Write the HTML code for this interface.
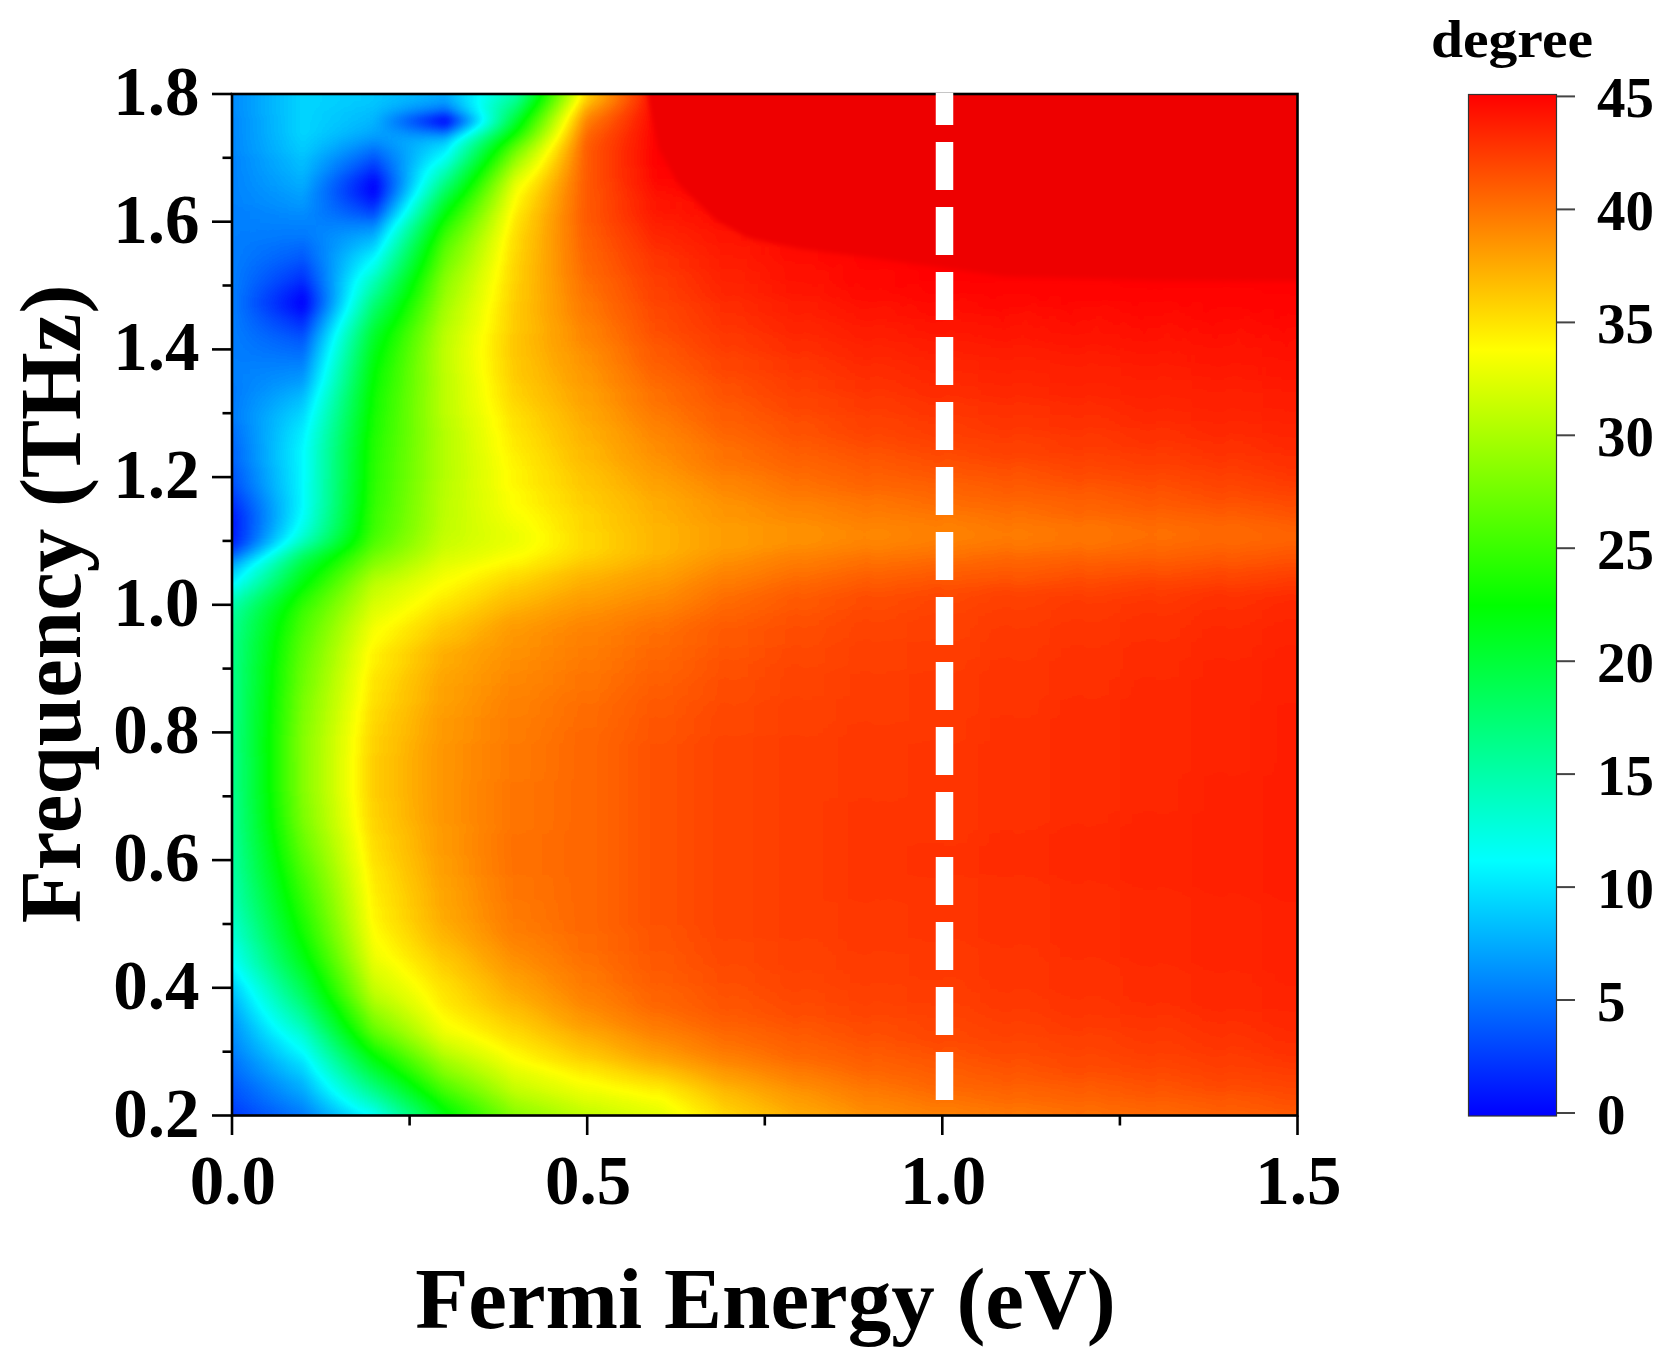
<!DOCTYPE html>
<html><head><meta charset="utf-8"><title>Fermi Energy vs Frequency</title>
<style>html,body{margin:0;padding:0;background:#fff}svg{display:block}text{font-family:"Liberation Serif","Times New Roman",serif;font-weight:bold;fill:#000}</style></head>
<body>
<svg width="1664" height="1360" viewBox="0 0 1664 1360">
<defs>
<linearGradient id="c0" gradientUnits="userSpaceOnUse" x1="0" y1="94.0" x2="0" y2="1115.5"><stop offset="0" stop-color="#232323"/><stop offset="0.00625" stop-color="#232323"/><stop offset="0.0125" stop-color="#232323"/><stop offset="0.01875" stop-color="#232323"/><stop offset="0.025" stop-color="#222222"/><stop offset="0.03125" stop-color="#222222"/><stop offset="0.0375" stop-color="#222222"/><stop offset="0.04375" stop-color="#222222"/><stop offset="0.05" stop-color="#222222"/><stop offset="0.05625" stop-color="#222222"/><stop offset="0.0625" stop-color="#212121"/><stop offset="0.06875" stop-color="#212121"/><stop offset="0.075" stop-color="#212121"/><stop offset="0.08125" stop-color="#212121"/><stop offset="0.0875" stop-color="#212121"/><stop offset="0.09375" stop-color="#212121"/><stop offset="0.1" stop-color="#212121"/><stop offset="0.1062" stop-color="#212121"/><stop offset="0.1125" stop-color="#202020"/><stop offset="0.1187" stop-color="#202020"/><stop offset="0.125" stop-color="#202020"/><stop offset="0.1313" stop-color="#202020"/><stop offset="0.1375" stop-color="#202020"/><stop offset="0.1437" stop-color="#202020"/><stop offset="0.15" stop-color="#202020"/><stop offset="0.1562" stop-color="#202020"/><stop offset="0.1625" stop-color="#202020"/><stop offset="0.1688" stop-color="#202020"/><stop offset="0.175" stop-color="#202020"/><stop offset="0.1812" stop-color="#202020"/><stop offset="0.1875" stop-color="#202020"/><stop offset="0.1938" stop-color="#202020"/><stop offset="0.2" stop-color="#202020"/><stop offset="0.2062" stop-color="#202020"/><stop offset="0.2125" stop-color="#202020"/><stop offset="0.2188" stop-color="#202020"/><stop offset="0.225" stop-color="#202020"/><stop offset="0.2313" stop-color="#202020"/><stop offset="0.2375" stop-color="#202020"/><stop offset="0.2437" stop-color="#202020"/><stop offset="0.25" stop-color="#202020"/><stop offset="0.2562" stop-color="#202020"/><stop offset="0.2625" stop-color="#202020"/><stop offset="0.2687" stop-color="#202020"/><stop offset="0.275" stop-color="#202020"/><stop offset="0.2812" stop-color="#202020"/><stop offset="0.2875" stop-color="#1f1f1f"/><stop offset="0.2938" stop-color="#1f1f1f"/><stop offset="0.3" stop-color="#1f1f1f"/><stop offset="0.3063" stop-color="#1f1f1f"/><stop offset="0.3125" stop-color="#1f1f1f"/><stop offset="0.3187" stop-color="#1f1f1f"/><stop offset="0.325" stop-color="#1d1d1d"/><stop offset="0.3312" stop-color="#1c1c1c"/><stop offset="0.3375" stop-color="#1b1b1b"/><stop offset="0.3438" stop-color="#1a1a1a"/><stop offset="0.35" stop-color="#191919"/><stop offset="0.3563" stop-color="#191919"/><stop offset="0.3625" stop-color="#181818"/><stop offset="0.3688" stop-color="#161616"/><stop offset="0.375" stop-color="#151515"/><stop offset="0.3812" stop-color="#141414"/><stop offset="0.3875" stop-color="#121212"/><stop offset="0.3937" stop-color="#0f0f0f"/><stop offset="0.4" stop-color="#0c0c0c"/><stop offset="0.4062" stop-color="#090909"/><stop offset="0.4125" stop-color="#070707"/><stop offset="0.4188" stop-color="#060606"/><stop offset="0.425" stop-color="#060606"/><stop offset="0.4313" stop-color="#060606"/><stop offset="0.4375" stop-color="#070707"/><stop offset="0.4437" stop-color="#0d0d0d"/><stop offset="0.45" stop-color="#161616"/><stop offset="0.4562" stop-color="#222222"/><stop offset="0.4625" stop-color="#2c2c2c"/><stop offset="0.4688" stop-color="#333333"/><stop offset="0.475" stop-color="#393939"/><stop offset="0.4813" stop-color="#404040"/><stop offset="0.4875" stop-color="#474747"/><stop offset="0.4938" stop-color="#4e4e4e"/><stop offset="0.5" stop-color="#535353"/><stop offset="0.5062" stop-color="#575757"/><stop offset="0.5125" stop-color="#595959"/><stop offset="0.5188" stop-color="#5b5b5b"/><stop offset="0.525" stop-color="#5b5b5b"/><stop offset="0.5312" stop-color="#5c5c5c"/><stop offset="0.5375" stop-color="#5d5d5d"/><stop offset="0.5437" stop-color="#5d5d5d"/><stop offset="0.55" stop-color="#5d5d5d"/><stop offset="0.5563" stop-color="#5d5d5d"/><stop offset="0.5625" stop-color="#5e5e5e"/><stop offset="0.5687" stop-color="#5d5d5d"/><stop offset="0.575" stop-color="#5d5d5d"/><stop offset="0.5813" stop-color="#5d5d5d"/><stop offset="0.5875" stop-color="#5d5d5d"/><stop offset="0.5938" stop-color="#5d5d5d"/><stop offset="0.6" stop-color="#5d5d5d"/><stop offset="0.6062" stop-color="#5d5d5d"/><stop offset="0.6125" stop-color="#5d5d5d"/><stop offset="0.6188" stop-color="#5d5d5d"/><stop offset="0.625" stop-color="#5d5d5d"/><stop offset="0.6312" stop-color="#5d5d5d"/><stop offset="0.6375" stop-color="#5d5d5d"/><stop offset="0.6438" stop-color="#5d5d5d"/><stop offset="0.65" stop-color="#5c5c5c"/><stop offset="0.6562" stop-color="#5c5c5c"/><stop offset="0.6625" stop-color="#5c5c5c"/><stop offset="0.6687" stop-color="#5c5c5c"/><stop offset="0.675" stop-color="#5c5c5c"/><stop offset="0.6813" stop-color="#5c5c5c"/><stop offset="0.6875" stop-color="#5b5b5b"/><stop offset="0.6937" stop-color="#5b5b5b"/><stop offset="0.7" stop-color="#5b5b5b"/><stop offset="0.7063" stop-color="#5a5a5a"/><stop offset="0.7125" stop-color="#5a5a5a"/><stop offset="0.7188" stop-color="#5a5a5a"/><stop offset="0.725" stop-color="#595959"/><stop offset="0.7312" stop-color="#595959"/><stop offset="0.7375" stop-color="#585858"/><stop offset="0.7438" stop-color="#585858"/><stop offset="0.75" stop-color="#575757"/><stop offset="0.7562" stop-color="#575757"/><stop offset="0.7625" stop-color="#565656"/><stop offset="0.7688" stop-color="#555555"/><stop offset="0.775" stop-color="#545454"/><stop offset="0.7812" stop-color="#535353"/><stop offset="0.7875" stop-color="#525252"/><stop offset="0.7937" stop-color="#515151"/><stop offset="0.8" stop-color="#4f4f4f"/><stop offset="0.8063" stop-color="#4e4e4e"/><stop offset="0.8125" stop-color="#4c4c4c"/><stop offset="0.8187" stop-color="#4a4a4a"/><stop offset="0.825" stop-color="#494949"/><stop offset="0.8313" stop-color="#464646"/><stop offset="0.8375" stop-color="#444444"/><stop offset="0.8438" stop-color="#424242"/><stop offset="0.85" stop-color="#404040"/><stop offset="0.8562" stop-color="#3d3d3d"/><stop offset="0.8625" stop-color="#393939"/><stop offset="0.8688" stop-color="#363636"/><stop offset="0.875" stop-color="#323232"/><stop offset="0.8812" stop-color="#303030"/><stop offset="0.8875" stop-color="#2d2d2d"/><stop offset="0.8938" stop-color="#2b2b2b"/><stop offset="0.9" stop-color="#292929"/><stop offset="0.9062" stop-color="#272727"/><stop offset="0.9125" stop-color="#252525"/><stop offset="0.9187" stop-color="#242424"/><stop offset="0.925" stop-color="#232323"/><stop offset="0.9313" stop-color="#212121"/><stop offset="0.9375" stop-color="#202020"/><stop offset="0.9437" stop-color="#1e1e1e"/><stop offset="0.95" stop-color="#1c1c1c"/><stop offset="0.9563" stop-color="#1b1b1b"/><stop offset="0.9625" stop-color="#191919"/><stop offset="0.9688" stop-color="#171717"/><stop offset="0.975" stop-color="#151515"/><stop offset="0.9812" stop-color="#141414"/><stop offset="0.9875" stop-color="#121212"/><stop offset="0.9938" stop-color="#101010"/><stop offset="1" stop-color="#0e0e0e"/></linearGradient>
<linearGradient id="c1" gradientUnits="userSpaceOnUse" x1="0" y1="94.0" x2="0" y2="1115.5"><stop offset="0" stop-color="#363636"/><stop offset="0.00625" stop-color="#363636"/><stop offset="0.0125" stop-color="#363636"/><stop offset="0.01875" stop-color="#363636"/><stop offset="0.025" stop-color="#363636"/><stop offset="0.03125" stop-color="#363636"/><stop offset="0.0375" stop-color="#363636"/><stop offset="0.04375" stop-color="#353535"/><stop offset="0.05" stop-color="#343434"/><stop offset="0.05625" stop-color="#333333"/><stop offset="0.0625" stop-color="#313131"/><stop offset="0.06875" stop-color="#303030"/><stop offset="0.075" stop-color="#2f2f2f"/><stop offset="0.08125" stop-color="#2d2d2d"/><stop offset="0.0875" stop-color="#2c2c2c"/><stop offset="0.09375" stop-color="#2a2a2a"/><stop offset="0.1" stop-color="#282828"/><stop offset="0.1062" stop-color="#272727"/><stop offset="0.1125" stop-color="#252525"/><stop offset="0.1187" stop-color="#232323"/><stop offset="0.125" stop-color="#222222"/><stop offset="0.1313" stop-color="#202020"/><stop offset="0.1375" stop-color="#1f1f1f"/><stop offset="0.1437" stop-color="#1d1d1d"/><stop offset="0.15" stop-color="#1a1a1a"/><stop offset="0.1562" stop-color="#181818"/><stop offset="0.1625" stop-color="#151515"/><stop offset="0.1688" stop-color="#121212"/><stop offset="0.175" stop-color="#0f0f0f"/><stop offset="0.1812" stop-color="#0c0c0c"/><stop offset="0.1875" stop-color="#080808"/><stop offset="0.1938" stop-color="#040404"/><stop offset="0.2" stop-color="#010101"/><stop offset="0.2062" stop-color="#000000"/><stop offset="0.2125" stop-color="#030303"/><stop offset="0.2188" stop-color="#080808"/><stop offset="0.225" stop-color="#0c0c0c"/><stop offset="0.2313" stop-color="#101010"/><stop offset="0.2375" stop-color="#141414"/><stop offset="0.2437" stop-color="#171717"/><stop offset="0.25" stop-color="#1a1a1a"/><stop offset="0.2562" stop-color="#1d1d1d"/><stop offset="0.2625" stop-color="#202020"/><stop offset="0.2687" stop-color="#222222"/><stop offset="0.275" stop-color="#252525"/><stop offset="0.2812" stop-color="#272727"/><stop offset="0.2875" stop-color="#2b2b2b"/><stop offset="0.2938" stop-color="#2e2e2e"/><stop offset="0.3" stop-color="#313131"/><stop offset="0.3063" stop-color="#333333"/><stop offset="0.3125" stop-color="#363636"/><stop offset="0.3187" stop-color="#383838"/><stop offset="0.325" stop-color="#3a3a3a"/><stop offset="0.3312" stop-color="#3c3c3c"/><stop offset="0.3375" stop-color="#3d3d3d"/><stop offset="0.3438" stop-color="#3e3e3e"/><stop offset="0.35" stop-color="#3f3f3f"/><stop offset="0.3563" stop-color="#3f3f3f"/><stop offset="0.3625" stop-color="#3f3f3f"/><stop offset="0.3688" stop-color="#3f3f3f"/><stop offset="0.375" stop-color="#3f3f3f"/><stop offset="0.3812" stop-color="#3f3f3f"/><stop offset="0.3875" stop-color="#3f3f3f"/><stop offset="0.3937" stop-color="#3f3f3f"/><stop offset="0.4" stop-color="#3f3f3f"/><stop offset="0.4062" stop-color="#404040"/><stop offset="0.4125" stop-color="#414141"/><stop offset="0.4188" stop-color="#434343"/><stop offset="0.425" stop-color="#464646"/><stop offset="0.4313" stop-color="#4a4a4a"/><stop offset="0.4375" stop-color="#505050"/><stop offset="0.4437" stop-color="#595959"/><stop offset="0.45" stop-color="#646464"/><stop offset="0.4562" stop-color="#6c6c6c"/><stop offset="0.4625" stop-color="#727272"/><stop offset="0.4688" stop-color="#777777"/><stop offset="0.475" stop-color="#7b7b7b"/><stop offset="0.4813" stop-color="#7f7f7f"/><stop offset="0.4875" stop-color="#848484"/><stop offset="0.4938" stop-color="#888888"/><stop offset="0.5" stop-color="#8b8b8b"/><stop offset="0.5062" stop-color="#8e8e8e"/><stop offset="0.5125" stop-color="#909090"/><stop offset="0.5188" stop-color="#929292"/><stop offset="0.525" stop-color="#939393"/><stop offset="0.5312" stop-color="#959595"/><stop offset="0.5375" stop-color="#969696"/><stop offset="0.5437" stop-color="#979797"/><stop offset="0.55" stop-color="#989898"/><stop offset="0.5563" stop-color="#999999"/><stop offset="0.5625" stop-color="#9a9a9a"/><stop offset="0.5687" stop-color="#9b9b9b"/><stop offset="0.575" stop-color="#9b9b9b"/><stop offset="0.5813" stop-color="#9c9c9c"/><stop offset="0.5875" stop-color="#9d9d9d"/><stop offset="0.5938" stop-color="#9e9e9e"/><stop offset="0.6" stop-color="#9e9e9e"/><stop offset="0.6062" stop-color="#9f9f9f"/><stop offset="0.6125" stop-color="#9f9f9f"/><stop offset="0.6188" stop-color="#a0a0a0"/><stop offset="0.625" stop-color="#a0a0a0"/><stop offset="0.6312" stop-color="#a1a1a1"/><stop offset="0.6375" stop-color="#a1a1a1"/><stop offset="0.6438" stop-color="#a1a1a1"/><stop offset="0.65" stop-color="#a1a1a1"/><stop offset="0.6562" stop-color="#a1a1a1"/><stop offset="0.6625" stop-color="#a1a1a1"/><stop offset="0.6687" stop-color="#a1a1a1"/><stop offset="0.675" stop-color="#a1a1a1"/><stop offset="0.6813" stop-color="#a1a1a1"/><stop offset="0.6875" stop-color="#a0a0a0"/><stop offset="0.6937" stop-color="#a0a0a0"/><stop offset="0.7" stop-color="#9f9f9f"/><stop offset="0.7063" stop-color="#9f9f9f"/><stop offset="0.7125" stop-color="#9e9e9e"/><stop offset="0.7188" stop-color="#9d9d9d"/><stop offset="0.725" stop-color="#9b9b9b"/><stop offset="0.7312" stop-color="#9a9a9a"/><stop offset="0.7375" stop-color="#999999"/><stop offset="0.7438" stop-color="#979797"/><stop offset="0.75" stop-color="#969696"/><stop offset="0.7562" stop-color="#949494"/><stop offset="0.7625" stop-color="#939393"/><stop offset="0.7688" stop-color="#919191"/><stop offset="0.775" stop-color="#909090"/><stop offset="0.7812" stop-color="#8e8e8e"/><stop offset="0.7875" stop-color="#8d8d8d"/><stop offset="0.7937" stop-color="#8b8b8b"/><stop offset="0.8" stop-color="#8a8a8a"/><stop offset="0.8063" stop-color="#888888"/><stop offset="0.8125" stop-color="#868686"/><stop offset="0.8187" stop-color="#858585"/><stop offset="0.825" stop-color="#838383"/><stop offset="0.8313" stop-color="#818181"/><stop offset="0.8375" stop-color="#7e7e7e"/><stop offset="0.8438" stop-color="#7c7c7c"/><stop offset="0.85" stop-color="#797979"/><stop offset="0.8562" stop-color="#767676"/><stop offset="0.8625" stop-color="#737373"/><stop offset="0.8688" stop-color="#6f6f6f"/><stop offset="0.875" stop-color="#6c6c6c"/><stop offset="0.8812" stop-color="#686868"/><stop offset="0.8875" stop-color="#646464"/><stop offset="0.8938" stop-color="#606060"/><stop offset="0.9" stop-color="#5b5b5b"/><stop offset="0.9062" stop-color="#575757"/><stop offset="0.9125" stop-color="#525252"/><stop offset="0.9187" stop-color="#4d4d4d"/><stop offset="0.925" stop-color="#484848"/><stop offset="0.9313" stop-color="#444444"/><stop offset="0.9375" stop-color="#404040"/><stop offset="0.9437" stop-color="#3c3c3c"/><stop offset="0.95" stop-color="#383838"/><stop offset="0.9563" stop-color="#353535"/><stop offset="0.9625" stop-color="#313131"/><stop offset="0.9688" stop-color="#2e2e2e"/><stop offset="0.975" stop-color="#2b2b2b"/><stop offset="0.9812" stop-color="#282828"/><stop offset="0.9875" stop-color="#252525"/><stop offset="0.9938" stop-color="#222222"/><stop offset="1" stop-color="#1f1f1f"/></linearGradient>
<linearGradient id="c2" gradientUnits="userSpaceOnUse" x1="0" y1="94.0" x2="0" y2="1115.5"><stop offset="0" stop-color="#323232"/><stop offset="0.00625" stop-color="#323232"/><stop offset="0.0125" stop-color="#313131"/><stop offset="0.01875" stop-color="#2f2f2f"/><stop offset="0.025" stop-color="#2e2e2e"/><stop offset="0.03125" stop-color="#2c2c2c"/><stop offset="0.0375" stop-color="#2a2a2a"/><stop offset="0.04375" stop-color="#262626"/><stop offset="0.05" stop-color="#212121"/><stop offset="0.05625" stop-color="#1b1b1b"/><stop offset="0.0625" stop-color="#161616"/><stop offset="0.06875" stop-color="#101010"/><stop offset="0.075" stop-color="#0b0b0b"/><stop offset="0.08125" stop-color="#050505"/><stop offset="0.0875" stop-color="#010101"/><stop offset="0.09375" stop-color="#000000"/><stop offset="0.1" stop-color="#030303"/><stop offset="0.1062" stop-color="#080808"/><stop offset="0.1125" stop-color="#0e0e0e"/><stop offset="0.1187" stop-color="#151515"/><stop offset="0.125" stop-color="#1d1d1d"/><stop offset="0.1313" stop-color="#242424"/><stop offset="0.1375" stop-color="#2a2a2a"/><stop offset="0.1437" stop-color="#303030"/><stop offset="0.15" stop-color="#353535"/><stop offset="0.1562" stop-color="#3b3b3b"/><stop offset="0.1625" stop-color="#404040"/><stop offset="0.1688" stop-color="#454545"/><stop offset="0.175" stop-color="#4a4a4a"/><stop offset="0.1812" stop-color="#505050"/><stop offset="0.1875" stop-color="#555555"/><stop offset="0.1938" stop-color="#595959"/><stop offset="0.2" stop-color="#5e5e5e"/><stop offset="0.2062" stop-color="#636363"/><stop offset="0.2125" stop-color="#676767"/><stop offset="0.2188" stop-color="#6b6b6b"/><stop offset="0.225" stop-color="#6f6f6f"/><stop offset="0.2313" stop-color="#737373"/><stop offset="0.2375" stop-color="#767676"/><stop offset="0.2437" stop-color="#787878"/><stop offset="0.25" stop-color="#7a7a7a"/><stop offset="0.2562" stop-color="#7c7c7c"/><stop offset="0.2625" stop-color="#7d7d7d"/><stop offset="0.2687" stop-color="#7f7f7f"/><stop offset="0.275" stop-color="#808080"/><stop offset="0.2812" stop-color="#818181"/><stop offset="0.2875" stop-color="#828282"/><stop offset="0.2938" stop-color="#838383"/><stop offset="0.3" stop-color="#848484"/><stop offset="0.3063" stop-color="#848484"/><stop offset="0.3125" stop-color="#858585"/><stop offset="0.3187" stop-color="#868686"/><stop offset="0.325" stop-color="#868686"/><stop offset="0.3312" stop-color="#878787"/><stop offset="0.3375" stop-color="#888888"/><stop offset="0.3438" stop-color="#888888"/><stop offset="0.35" stop-color="#898989"/><stop offset="0.3563" stop-color="#898989"/><stop offset="0.3625" stop-color="#8a8a8a"/><stop offset="0.3688" stop-color="#8a8a8a"/><stop offset="0.375" stop-color="#8a8a8a"/><stop offset="0.3812" stop-color="#8b8b8b"/><stop offset="0.3875" stop-color="#8b8b8b"/><stop offset="0.3937" stop-color="#8c8c8c"/><stop offset="0.4" stop-color="#8c8c8c"/><stop offset="0.4062" stop-color="#8d8d8d"/><stop offset="0.4125" stop-color="#8e8e8e"/><stop offset="0.4188" stop-color="#8e8e8e"/><stop offset="0.425" stop-color="#8f8f8f"/><stop offset="0.4313" stop-color="#919191"/><stop offset="0.4375" stop-color="#939393"/><stop offset="0.4437" stop-color="#969696"/><stop offset="0.45" stop-color="#9b9b9b"/><stop offset="0.4562" stop-color="#9f9f9f"/><stop offset="0.4625" stop-color="#a3a3a3"/><stop offset="0.4688" stop-color="#a8a8a8"/><stop offset="0.475" stop-color="#acacac"/><stop offset="0.4813" stop-color="#b0b0b0"/><stop offset="0.4875" stop-color="#b2b2b2"/><stop offset="0.4938" stop-color="#b4b4b4"/><stop offset="0.5" stop-color="#b6b6b6"/><stop offset="0.5062" stop-color="#b8b8b8"/><stop offset="0.5125" stop-color="#bababa"/><stop offset="0.5188" stop-color="#bcbcbc"/><stop offset="0.525" stop-color="#bebebe"/><stop offset="0.5312" stop-color="#bfbfbf"/><stop offset="0.5375" stop-color="#c0c0c0"/><stop offset="0.5437" stop-color="#c2c2c2"/><stop offset="0.55" stop-color="#c3c3c3"/><stop offset="0.5563" stop-color="#c3c3c3"/><stop offset="0.5625" stop-color="#c4c4c4"/><stop offset="0.5687" stop-color="#c5c5c5"/><stop offset="0.575" stop-color="#c6c6c6"/><stop offset="0.5813" stop-color="#c6c6c6"/><stop offset="0.5875" stop-color="#c7c7c7"/><stop offset="0.5938" stop-color="#c7c7c7"/><stop offset="0.6" stop-color="#c8c8c8"/><stop offset="0.6062" stop-color="#c9c9c9"/><stop offset="0.6125" stop-color="#c9c9c9"/><stop offset="0.6188" stop-color="#cacaca"/><stop offset="0.625" stop-color="#cacaca"/><stop offset="0.6312" stop-color="#cbcbcb"/><stop offset="0.6375" stop-color="#cbcbcb"/><stop offset="0.6438" stop-color="#cbcbcb"/><stop offset="0.65" stop-color="#cccccc"/><stop offset="0.6562" stop-color="#cccccc"/><stop offset="0.6625" stop-color="#cccccc"/><stop offset="0.6687" stop-color="#cccccc"/><stop offset="0.675" stop-color="#cccccc"/><stop offset="0.6813" stop-color="#cccccc"/><stop offset="0.6875" stop-color="#cccccc"/><stop offset="0.6937" stop-color="#cbcbcb"/><stop offset="0.7" stop-color="#cbcbcb"/><stop offset="0.7063" stop-color="#cbcbcb"/><stop offset="0.7125" stop-color="#cacaca"/><stop offset="0.7188" stop-color="#cacaca"/><stop offset="0.725" stop-color="#c9c9c9"/><stop offset="0.7312" stop-color="#c8c8c8"/><stop offset="0.7375" stop-color="#c8c8c8"/><stop offset="0.7438" stop-color="#c7c7c7"/><stop offset="0.75" stop-color="#c7c7c7"/><stop offset="0.7562" stop-color="#c6c6c6"/><stop offset="0.7625" stop-color="#c5c5c5"/><stop offset="0.7688" stop-color="#c5c5c5"/><stop offset="0.775" stop-color="#c4c4c4"/><stop offset="0.7812" stop-color="#c4c4c4"/><stop offset="0.7875" stop-color="#c3c3c3"/><stop offset="0.7937" stop-color="#c3c3c3"/><stop offset="0.8" stop-color="#c2c2c2"/><stop offset="0.8063" stop-color="#c2c2c2"/><stop offset="0.8125" stop-color="#c1c1c1"/><stop offset="0.8187" stop-color="#c0c0c0"/><stop offset="0.825" stop-color="#bfbfbf"/><stop offset="0.8313" stop-color="#bebebe"/><stop offset="0.8375" stop-color="#bdbdbd"/><stop offset="0.8438" stop-color="#bcbcbc"/><stop offset="0.85" stop-color="#bababa"/><stop offset="0.8562" stop-color="#b8b8b8"/><stop offset="0.8625" stop-color="#b6b6b6"/><stop offset="0.8688" stop-color="#b4b4b4"/><stop offset="0.875" stop-color="#b2b2b2"/><stop offset="0.8812" stop-color="#afafaf"/><stop offset="0.8875" stop-color="#acacac"/><stop offset="0.8938" stop-color="#a8a8a8"/><stop offset="0.9" stop-color="#a4a4a4"/><stop offset="0.9062" stop-color="#a0a0a0"/><stop offset="0.9125" stop-color="#9c9c9c"/><stop offset="0.9187" stop-color="#979797"/><stop offset="0.925" stop-color="#919191"/><stop offset="0.9313" stop-color="#8b8b8b"/><stop offset="0.9375" stop-color="#848484"/><stop offset="0.9437" stop-color="#7e7e7e"/><stop offset="0.95" stop-color="#787878"/><stop offset="0.9563" stop-color="#727272"/><stop offset="0.9625" stop-color="#6b6b6b"/><stop offset="0.9688" stop-color="#656565"/><stop offset="0.975" stop-color="#5e5e5e"/><stop offset="0.9812" stop-color="#575757"/><stop offset="0.9875" stop-color="#505050"/><stop offset="0.9938" stop-color="#494949"/><stop offset="1" stop-color="#424242"/></linearGradient>
<linearGradient id="c3" gradientUnits="userSpaceOnUse" x1="0" y1="94.0" x2="0" y2="1115.5"><stop offset="0" stop-color="#2b2b2b"/><stop offset="0.00625" stop-color="#282828"/><stop offset="0.0125" stop-color="#212121"/><stop offset="0.01875" stop-color="#141414"/><stop offset="0.025" stop-color="#010101"/><stop offset="0.03125" stop-color="#090909"/><stop offset="0.0375" stop-color="#1c1c1c"/><stop offset="0.04375" stop-color="#2c2c2c"/><stop offset="0.05" stop-color="#363636"/><stop offset="0.05625" stop-color="#3c3c3c"/><stop offset="0.0625" stop-color="#424242"/><stop offset="0.06875" stop-color="#494949"/><stop offset="0.075" stop-color="#515151"/><stop offset="0.08125" stop-color="#585858"/><stop offset="0.0875" stop-color="#5f5f5f"/><stop offset="0.09375" stop-color="#666666"/><stop offset="0.1" stop-color="#6d6d6d"/><stop offset="0.1062" stop-color="#747474"/><stop offset="0.1125" stop-color="#7a7a7a"/><stop offset="0.1187" stop-color="#7f7f7f"/><stop offset="0.125" stop-color="#858585"/><stop offset="0.1313" stop-color="#8a8a8a"/><stop offset="0.1375" stop-color="#8e8e8e"/><stop offset="0.1437" stop-color="#929292"/><stop offset="0.15" stop-color="#969696"/><stop offset="0.1562" stop-color="#989898"/><stop offset="0.1625" stop-color="#9b9b9b"/><stop offset="0.1688" stop-color="#9d9d9d"/><stop offset="0.175" stop-color="#a0a0a0"/><stop offset="0.1812" stop-color="#a2a2a2"/><stop offset="0.1875" stop-color="#a4a4a4"/><stop offset="0.1938" stop-color="#a5a5a5"/><stop offset="0.2" stop-color="#a7a7a7"/><stop offset="0.2062" stop-color="#a8a8a8"/><stop offset="0.2125" stop-color="#aaaaaa"/><stop offset="0.2188" stop-color="#ababab"/><stop offset="0.225" stop-color="#acacac"/><stop offset="0.2313" stop-color="#aeaeae"/><stop offset="0.2375" stop-color="#afafaf"/><stop offset="0.2437" stop-color="#afafaf"/><stop offset="0.25" stop-color="#b0b0b0"/><stop offset="0.2562" stop-color="#b0b0b0"/><stop offset="0.2625" stop-color="#b0b0b0"/><stop offset="0.2687" stop-color="#b0b0b0"/><stop offset="0.275" stop-color="#afafaf"/><stop offset="0.2812" stop-color="#afafaf"/><stop offset="0.2875" stop-color="#afafaf"/><stop offset="0.2938" stop-color="#afafaf"/><stop offset="0.3" stop-color="#afafaf"/><stop offset="0.3063" stop-color="#afafaf"/><stop offset="0.3125" stop-color="#afafaf"/><stop offset="0.3187" stop-color="#aeaeae"/><stop offset="0.325" stop-color="#aeaeae"/><stop offset="0.3312" stop-color="#adadad"/><stop offset="0.3375" stop-color="#adadad"/><stop offset="0.3438" stop-color="#adadad"/><stop offset="0.35" stop-color="#adadad"/><stop offset="0.3563" stop-color="#adadad"/><stop offset="0.3625" stop-color="#adadad"/><stop offset="0.3688" stop-color="#adadad"/><stop offset="0.375" stop-color="#adadad"/><stop offset="0.3812" stop-color="#aeaeae"/><stop offset="0.3875" stop-color="#aeaeae"/><stop offset="0.3937" stop-color="#aeaeae"/><stop offset="0.4" stop-color="#afafaf"/><stop offset="0.4062" stop-color="#afafaf"/><stop offset="0.4125" stop-color="#afafaf"/><stop offset="0.4188" stop-color="#b0b0b0"/><stop offset="0.425" stop-color="#b0b0b0"/><stop offset="0.4313" stop-color="#b1b1b1"/><stop offset="0.4375" stop-color="#b2b2b2"/><stop offset="0.4437" stop-color="#b3b3b3"/><stop offset="0.45" stop-color="#b5b5b5"/><stop offset="0.4562" stop-color="#b7b7b7"/><stop offset="0.4625" stop-color="#bababa"/><stop offset="0.4688" stop-color="#bcbcbc"/><stop offset="0.475" stop-color="#bebebe"/><stop offset="0.4813" stop-color="#c0c0c0"/><stop offset="0.4875" stop-color="#c2c2c2"/><stop offset="0.4938" stop-color="#c4c4c4"/><stop offset="0.5" stop-color="#c6c6c6"/><stop offset="0.5062" stop-color="#c8c8c8"/><stop offset="0.5125" stop-color="#cacaca"/><stop offset="0.5188" stop-color="#cccccc"/><stop offset="0.525" stop-color="#cecece"/><stop offset="0.5312" stop-color="#cfcfcf"/><stop offset="0.5375" stop-color="#d1d1d1"/><stop offset="0.5437" stop-color="#d3d3d3"/><stop offset="0.55" stop-color="#d4d4d4"/><stop offset="0.5563" stop-color="#d4d4d4"/><stop offset="0.5625" stop-color="#d5d5d5"/><stop offset="0.5687" stop-color="#d6d6d6"/><stop offset="0.575" stop-color="#d6d6d6"/><stop offset="0.5813" stop-color="#d7d7d7"/><stop offset="0.5875" stop-color="#d7d7d7"/><stop offset="0.5938" stop-color="#d7d7d7"/><stop offset="0.6" stop-color="#d8d8d8"/><stop offset="0.6062" stop-color="#d8d8d8"/><stop offset="0.6125" stop-color="#d9d9d9"/><stop offset="0.6188" stop-color="#d9d9d9"/><stop offset="0.625" stop-color="#d9d9d9"/><stop offset="0.6312" stop-color="#d9d9d9"/><stop offset="0.6375" stop-color="#dadada"/><stop offset="0.6438" stop-color="#dadada"/><stop offset="0.65" stop-color="#dadada"/><stop offset="0.6562" stop-color="#dadada"/><stop offset="0.6625" stop-color="#dadada"/><stop offset="0.6687" stop-color="#dadada"/><stop offset="0.675" stop-color="#dadada"/><stop offset="0.6813" stop-color="#dadada"/><stop offset="0.6875" stop-color="#dadada"/><stop offset="0.6937" stop-color="#dadada"/><stop offset="0.7" stop-color="#dadada"/><stop offset="0.7063" stop-color="#dadada"/><stop offset="0.7125" stop-color="#dadada"/><stop offset="0.7188" stop-color="#d9d9d9"/><stop offset="0.725" stop-color="#d9d9d9"/><stop offset="0.7312" stop-color="#d9d9d9"/><stop offset="0.7375" stop-color="#d9d9d9"/><stop offset="0.7438" stop-color="#d9d9d9"/><stop offset="0.75" stop-color="#d8d8d8"/><stop offset="0.7562" stop-color="#d8d8d8"/><stop offset="0.7625" stop-color="#d8d8d8"/><stop offset="0.7688" stop-color="#d7d7d7"/><stop offset="0.775" stop-color="#d7d7d7"/><stop offset="0.7812" stop-color="#d6d6d6"/><stop offset="0.7875" stop-color="#d6d6d6"/><stop offset="0.7937" stop-color="#d6d6d6"/><stop offset="0.8" stop-color="#d5d5d5"/><stop offset="0.8063" stop-color="#d5d5d5"/><stop offset="0.8125" stop-color="#d4d4d4"/><stop offset="0.8187" stop-color="#d3d3d3"/><stop offset="0.825" stop-color="#d2d2d2"/><stop offset="0.8313" stop-color="#d1d1d1"/><stop offset="0.8375" stop-color="#cfcfcf"/><stop offset="0.8438" stop-color="#cecece"/><stop offset="0.85" stop-color="#cccccc"/><stop offset="0.8562" stop-color="#cbcbcb"/><stop offset="0.8625" stop-color="#cacaca"/><stop offset="0.8688" stop-color="#c8c8c8"/><stop offset="0.875" stop-color="#c7c7c7"/><stop offset="0.8812" stop-color="#c6c6c6"/><stop offset="0.8875" stop-color="#c5c5c5"/><stop offset="0.8938" stop-color="#c4c4c4"/><stop offset="0.9" stop-color="#c2c2c2"/><stop offset="0.9062" stop-color="#c0c0c0"/><stop offset="0.9125" stop-color="#bebebe"/><stop offset="0.9187" stop-color="#bcbcbc"/><stop offset="0.925" stop-color="#b8b8b8"/><stop offset="0.9313" stop-color="#b4b4b4"/><stop offset="0.9375" stop-color="#b0b0b0"/><stop offset="0.9437" stop-color="#ababab"/><stop offset="0.95" stop-color="#a6a6a6"/><stop offset="0.9563" stop-color="#a2a2a2"/><stop offset="0.9625" stop-color="#9d9d9d"/><stop offset="0.9688" stop-color="#979797"/><stop offset="0.975" stop-color="#929292"/><stop offset="0.9812" stop-color="#8c8c8c"/><stop offset="0.9875" stop-color="#868686"/><stop offset="0.9938" stop-color="#818181"/><stop offset="1" stop-color="#7d7d7d"/></linearGradient>
<linearGradient id="c4" gradientUnits="userSpaceOnUse" x1="0" y1="94.0" x2="0" y2="1115.5"><stop offset="0" stop-color="#555555"/><stop offset="0.00625" stop-color="#5c5c5c"/><stop offset="0.0125" stop-color="#636363"/><stop offset="0.01875" stop-color="#6b6b6b"/><stop offset="0.025" stop-color="#737373"/><stop offset="0.03125" stop-color="#7a7a7a"/><stop offset="0.0375" stop-color="#828282"/><stop offset="0.04375" stop-color="#8b8b8b"/><stop offset="0.05" stop-color="#959595"/><stop offset="0.05625" stop-color="#9d9d9d"/><stop offset="0.0625" stop-color="#a4a4a4"/><stop offset="0.06875" stop-color="#aaaaaa"/><stop offset="0.075" stop-color="#b0b0b0"/><stop offset="0.08125" stop-color="#b5b5b5"/><stop offset="0.0875" stop-color="#bababa"/><stop offset="0.09375" stop-color="#bdbdbd"/><stop offset="0.1" stop-color="#c0c0c0"/><stop offset="0.1062" stop-color="#c1c1c1"/><stop offset="0.1125" stop-color="#c3c3c3"/><stop offset="0.1187" stop-color="#c5c5c5"/><stop offset="0.125" stop-color="#c6c6c6"/><stop offset="0.1313" stop-color="#c7c7c7"/><stop offset="0.1375" stop-color="#c8c8c8"/><stop offset="0.1437" stop-color="#c9c9c9"/><stop offset="0.15" stop-color="#c9c9c9"/><stop offset="0.1562" stop-color="#cacaca"/><stop offset="0.1625" stop-color="#cacaca"/><stop offset="0.1688" stop-color="#cbcbcb"/><stop offset="0.175" stop-color="#cbcbcb"/><stop offset="0.1812" stop-color="#cbcbcb"/><stop offset="0.1875" stop-color="#cccccc"/><stop offset="0.1938" stop-color="#cccccc"/><stop offset="0.2" stop-color="#cccccc"/><stop offset="0.2062" stop-color="#cdcdcd"/><stop offset="0.2125" stop-color="#cdcdcd"/><stop offset="0.2188" stop-color="#cdcdcd"/><stop offset="0.225" stop-color="#cdcdcd"/><stop offset="0.2313" stop-color="#cdcdcd"/><stop offset="0.2375" stop-color="#cecece"/><stop offset="0.2437" stop-color="#cecece"/><stop offset="0.25" stop-color="#cecece"/><stop offset="0.2562" stop-color="#cecece"/><stop offset="0.2625" stop-color="#cdcdcd"/><stop offset="0.2687" stop-color="#cdcdcd"/><stop offset="0.275" stop-color="#cdcdcd"/><stop offset="0.2812" stop-color="#cccccc"/><stop offset="0.2875" stop-color="#cbcbcb"/><stop offset="0.2938" stop-color="#cbcbcb"/><stop offset="0.3" stop-color="#cacaca"/><stop offset="0.3063" stop-color="#c9c9c9"/><stop offset="0.3125" stop-color="#c8c8c8"/><stop offset="0.3187" stop-color="#c7c7c7"/><stop offset="0.325" stop-color="#c7c7c7"/><stop offset="0.3312" stop-color="#c6c6c6"/><stop offset="0.3375" stop-color="#c5c5c5"/><stop offset="0.3438" stop-color="#c5c5c5"/><stop offset="0.35" stop-color="#c4c4c4"/><stop offset="0.3563" stop-color="#c3c3c3"/><stop offset="0.3625" stop-color="#c3c3c3"/><stop offset="0.3688" stop-color="#c2c2c2"/><stop offset="0.375" stop-color="#c2c2c2"/><stop offset="0.3812" stop-color="#c2c2c2"/><stop offset="0.3875" stop-color="#c1c1c1"/><stop offset="0.3937" stop-color="#c0c0c0"/><stop offset="0.4" stop-color="#c0c0c0"/><stop offset="0.4062" stop-color="#bfbfbf"/><stop offset="0.4125" stop-color="#bebebe"/><stop offset="0.4188" stop-color="#bdbdbd"/><stop offset="0.425" stop-color="#bcbcbc"/><stop offset="0.4313" stop-color="#bbbbbb"/><stop offset="0.4375" stop-color="#bbbbbb"/><stop offset="0.4437" stop-color="#bcbcbc"/><stop offset="0.45" stop-color="#bebebe"/><stop offset="0.4562" stop-color="#c1c1c1"/><stop offset="0.4625" stop-color="#c3c3c3"/><stop offset="0.4688" stop-color="#c7c7c7"/><stop offset="0.475" stop-color="#c9c9c9"/><stop offset="0.4813" stop-color="#cccccc"/><stop offset="0.4875" stop-color="#cecece"/><stop offset="0.4938" stop-color="#d0d0d0"/><stop offset="0.5" stop-color="#d2d2d2"/><stop offset="0.5062" stop-color="#d4d4d4"/><stop offset="0.5125" stop-color="#d6d6d6"/><stop offset="0.5188" stop-color="#d8d8d8"/><stop offset="0.525" stop-color="#d9d9d9"/><stop offset="0.5312" stop-color="#dadada"/><stop offset="0.5375" stop-color="#dadada"/><stop offset="0.5437" stop-color="#dbdbdb"/><stop offset="0.55" stop-color="#dbdbdb"/><stop offset="0.5563" stop-color="#dcdcdc"/><stop offset="0.5625" stop-color="#dcdcdc"/><stop offset="0.5687" stop-color="#dddddd"/><stop offset="0.575" stop-color="#dddddd"/><stop offset="0.5813" stop-color="#dedede"/><stop offset="0.5875" stop-color="#dedede"/><stop offset="0.5938" stop-color="#dfdfdf"/><stop offset="0.6" stop-color="#dfdfdf"/><stop offset="0.6062" stop-color="#dfdfdf"/><stop offset="0.6125" stop-color="#e0e0e0"/><stop offset="0.6188" stop-color="#e0e0e0"/><stop offset="0.625" stop-color="#e0e0e0"/><stop offset="0.6312" stop-color="#e0e0e0"/><stop offset="0.6375" stop-color="#e1e1e1"/><stop offset="0.6438" stop-color="#e1e1e1"/><stop offset="0.65" stop-color="#e1e1e1"/><stop offset="0.6562" stop-color="#e1e1e1"/><stop offset="0.6625" stop-color="#e1e1e1"/><stop offset="0.6687" stop-color="#e1e1e1"/><stop offset="0.675" stop-color="#e2e2e2"/><stop offset="0.6813" stop-color="#e2e2e2"/><stop offset="0.6875" stop-color="#e2e2e2"/><stop offset="0.6937" stop-color="#e2e2e2"/><stop offset="0.7" stop-color="#e2e2e2"/><stop offset="0.7063" stop-color="#e2e2e2"/><stop offset="0.7125" stop-color="#e2e2e2"/><stop offset="0.7188" stop-color="#e2e2e2"/><stop offset="0.725" stop-color="#e3e3e3"/><stop offset="0.7312" stop-color="#e3e3e3"/><stop offset="0.7375" stop-color="#e3e3e3"/><stop offset="0.7438" stop-color="#e3e3e3"/><stop offset="0.75" stop-color="#e3e3e3"/><stop offset="0.7562" stop-color="#e3e3e3"/><stop offset="0.7625" stop-color="#e3e3e3"/><stop offset="0.7688" stop-color="#e2e2e2"/><stop offset="0.775" stop-color="#e2e2e2"/><stop offset="0.7812" stop-color="#e2e2e2"/><stop offset="0.7875" stop-color="#e2e2e2"/><stop offset="0.7937" stop-color="#e1e1e1"/><stop offset="0.8" stop-color="#e1e1e1"/><stop offset="0.8063" stop-color="#e1e1e1"/><stop offset="0.8125" stop-color="#e0e0e0"/><stop offset="0.8187" stop-color="#e0e0e0"/><stop offset="0.825" stop-color="#dfdfdf"/><stop offset="0.8313" stop-color="#dedede"/><stop offset="0.8375" stop-color="#dddddd"/><stop offset="0.8438" stop-color="#dcdcdc"/><stop offset="0.85" stop-color="#dbdbdb"/><stop offset="0.8562" stop-color="#dadada"/><stop offset="0.8625" stop-color="#d8d8d8"/><stop offset="0.8688" stop-color="#d7d7d7"/><stop offset="0.875" stop-color="#d6d6d6"/><stop offset="0.8812" stop-color="#d4d4d4"/><stop offset="0.8875" stop-color="#d3d3d3"/><stop offset="0.8938" stop-color="#d1d1d1"/><stop offset="0.9" stop-color="#cfcfcf"/><stop offset="0.9062" stop-color="#cdcdcd"/><stop offset="0.9125" stop-color="#cbcbcb"/><stop offset="0.9187" stop-color="#c9c9c9"/><stop offset="0.925" stop-color="#c7c7c7"/><stop offset="0.9313" stop-color="#c5c5c5"/><stop offset="0.9375" stop-color="#c2c2c2"/><stop offset="0.9437" stop-color="#c0c0c0"/><stop offset="0.95" stop-color="#bdbdbd"/><stop offset="0.9563" stop-color="#bababa"/><stop offset="0.9625" stop-color="#b7b7b7"/><stop offset="0.9688" stop-color="#b4b4b4"/><stop offset="0.975" stop-color="#b1b1b1"/><stop offset="0.9812" stop-color="#adadad"/><stop offset="0.9875" stop-color="#a9a9a9"/><stop offset="0.9938" stop-color="#a5a5a5"/><stop offset="1" stop-color="#a2a2a2"/></linearGradient>
<linearGradient id="c5" gradientUnits="userSpaceOnUse" x1="0" y1="94.0" x2="0" y2="1115.5"><stop offset="0" stop-color="#cbcbcb"/><stop offset="0.00625" stop-color="#cecece"/><stop offset="0.0125" stop-color="#d4d4d4"/><stop offset="0.01875" stop-color="#dadada"/><stop offset="0.025" stop-color="#dfdfdf"/><stop offset="0.03125" stop-color="#e2e2e2"/><stop offset="0.0375" stop-color="#e5e5e5"/><stop offset="0.04375" stop-color="#e7e7e7"/><stop offset="0.05" stop-color="#e8e8e8"/><stop offset="0.05625" stop-color="#e9e9e9"/><stop offset="0.0625" stop-color="#e9e9e9"/><stop offset="0.06875" stop-color="#e9e9e9"/><stop offset="0.075" stop-color="#e9e9e9"/><stop offset="0.08125" stop-color="#e9e9e9"/><stop offset="0.0875" stop-color="#e9e9e9"/><stop offset="0.09375" stop-color="#e9e9e9"/><stop offset="0.1" stop-color="#e9e9e9"/><stop offset="0.1062" stop-color="#e9e9e9"/><stop offset="0.1125" stop-color="#e9e9e9"/><stop offset="0.1187" stop-color="#e9e9e9"/><stop offset="0.125" stop-color="#e9e9e9"/><stop offset="0.1313" stop-color="#e8e8e8"/><stop offset="0.1375" stop-color="#e8e8e8"/><stop offset="0.1437" stop-color="#e7e7e7"/><stop offset="0.15" stop-color="#e7e7e7"/><stop offset="0.1562" stop-color="#e6e6e6"/><stop offset="0.1625" stop-color="#e6e6e6"/><stop offset="0.1688" stop-color="#e5e5e5"/><stop offset="0.175" stop-color="#e5e5e5"/><stop offset="0.1812" stop-color="#e4e4e4"/><stop offset="0.1875" stop-color="#e3e3e3"/><stop offset="0.1938" stop-color="#e3e3e3"/><stop offset="0.2" stop-color="#e2e2e2"/><stop offset="0.2062" stop-color="#e1e1e1"/><stop offset="0.2125" stop-color="#e1e1e1"/><stop offset="0.2188" stop-color="#e0e0e0"/><stop offset="0.225" stop-color="#dfdfdf"/><stop offset="0.2313" stop-color="#dedede"/><stop offset="0.2375" stop-color="#dedede"/><stop offset="0.2437" stop-color="#dddddd"/><stop offset="0.25" stop-color="#dcdcdc"/><stop offset="0.2562" stop-color="#dbdbdb"/><stop offset="0.2625" stop-color="#dbdbdb"/><stop offset="0.2687" stop-color="#dadada"/><stop offset="0.275" stop-color="#d9d9d9"/><stop offset="0.2812" stop-color="#d9d9d9"/><stop offset="0.2875" stop-color="#d8d8d8"/><stop offset="0.2938" stop-color="#d7d7d7"/><stop offset="0.3" stop-color="#d7d7d7"/><stop offset="0.3063" stop-color="#d6d6d6"/><stop offset="0.3125" stop-color="#d5d5d5"/><stop offset="0.3187" stop-color="#d5d5d5"/><stop offset="0.325" stop-color="#d4d4d4"/><stop offset="0.3312" stop-color="#d3d3d3"/><stop offset="0.3375" stop-color="#d3d3d3"/><stop offset="0.3438" stop-color="#d2d2d2"/><stop offset="0.35" stop-color="#d1d1d1"/><stop offset="0.3563" stop-color="#d1d1d1"/><stop offset="0.3625" stop-color="#d0d0d0"/><stop offset="0.3688" stop-color="#cfcfcf"/><stop offset="0.375" stop-color="#cecece"/><stop offset="0.3812" stop-color="#cecece"/><stop offset="0.3875" stop-color="#cdcdcd"/><stop offset="0.3937" stop-color="#cccccc"/><stop offset="0.4" stop-color="#cccccc"/><stop offset="0.4062" stop-color="#cbcbcb"/><stop offset="0.4125" stop-color="#cacaca"/><stop offset="0.4188" stop-color="#cacaca"/><stop offset="0.425" stop-color="#cacaca"/><stop offset="0.4313" stop-color="#c9c9c9"/><stop offset="0.4375" stop-color="#c9c9c9"/><stop offset="0.4437" stop-color="#c9c9c9"/><stop offset="0.45" stop-color="#cacaca"/><stop offset="0.4562" stop-color="#cccccc"/><stop offset="0.4625" stop-color="#cecece"/><stop offset="0.4688" stop-color="#d1d1d1"/><stop offset="0.475" stop-color="#d3d3d3"/><stop offset="0.4813" stop-color="#d4d4d4"/><stop offset="0.4875" stop-color="#d6d6d6"/><stop offset="0.4938" stop-color="#d8d8d8"/><stop offset="0.5" stop-color="#d9d9d9"/><stop offset="0.5062" stop-color="#dbdbdb"/><stop offset="0.5125" stop-color="#dcdcdc"/><stop offset="0.5188" stop-color="#dddddd"/><stop offset="0.525" stop-color="#dedede"/><stop offset="0.5312" stop-color="#dfdfdf"/><stop offset="0.5375" stop-color="#dfdfdf"/><stop offset="0.5437" stop-color="#e0e0e0"/><stop offset="0.55" stop-color="#e0e0e0"/><stop offset="0.5563" stop-color="#e1e1e1"/><stop offset="0.5625" stop-color="#e1e1e1"/><stop offset="0.5687" stop-color="#e2e2e2"/><stop offset="0.575" stop-color="#e2e2e2"/><stop offset="0.5813" stop-color="#e2e2e2"/><stop offset="0.5875" stop-color="#e3e3e3"/><stop offset="0.5938" stop-color="#e3e3e3"/><stop offset="0.6" stop-color="#e4e4e4"/><stop offset="0.6062" stop-color="#e4e4e4"/><stop offset="0.6125" stop-color="#e4e4e4"/><stop offset="0.6188" stop-color="#e4e4e4"/><stop offset="0.625" stop-color="#e5e5e5"/><stop offset="0.6312" stop-color="#e5e5e5"/><stop offset="0.6375" stop-color="#e5e5e5"/><stop offset="0.6438" stop-color="#e5e5e5"/><stop offset="0.65" stop-color="#e5e5e5"/><stop offset="0.6562" stop-color="#e5e5e5"/><stop offset="0.6625" stop-color="#e5e5e5"/><stop offset="0.6687" stop-color="#e5e5e5"/><stop offset="0.675" stop-color="#e5e5e5"/><stop offset="0.6813" stop-color="#e5e5e5"/><stop offset="0.6875" stop-color="#e5e5e5"/><stop offset="0.6937" stop-color="#e5e5e5"/><stop offset="0.7" stop-color="#e5e5e5"/><stop offset="0.7063" stop-color="#e5e5e5"/><stop offset="0.7125" stop-color="#e5e5e5"/><stop offset="0.7188" stop-color="#e5e5e5"/><stop offset="0.725" stop-color="#e5e5e5"/><stop offset="0.7312" stop-color="#e5e5e5"/><stop offset="0.7375" stop-color="#e5e5e5"/><stop offset="0.7438" stop-color="#e5e5e5"/><stop offset="0.75" stop-color="#e5e5e5"/><stop offset="0.7562" stop-color="#e5e5e5"/><stop offset="0.7625" stop-color="#e5e5e5"/><stop offset="0.7688" stop-color="#e5e5e5"/><stop offset="0.775" stop-color="#e5e5e5"/><stop offset="0.7812" stop-color="#e5e5e5"/><stop offset="0.7875" stop-color="#e5e5e5"/><stop offset="0.7937" stop-color="#e5e5e5"/><stop offset="0.8" stop-color="#e5e5e5"/><stop offset="0.8063" stop-color="#e5e5e5"/><stop offset="0.8125" stop-color="#e5e5e5"/><stop offset="0.8187" stop-color="#e5e5e5"/><stop offset="0.825" stop-color="#e4e4e4"/><stop offset="0.8313" stop-color="#e4e4e4"/><stop offset="0.8375" stop-color="#e4e4e4"/><stop offset="0.8438" stop-color="#e3e3e3"/><stop offset="0.85" stop-color="#e3e3e3"/><stop offset="0.8562" stop-color="#e2e2e2"/><stop offset="0.8625" stop-color="#e1e1e1"/><stop offset="0.8688" stop-color="#e1e1e1"/><stop offset="0.875" stop-color="#e0e0e0"/><stop offset="0.8812" stop-color="#dfdfdf"/><stop offset="0.8875" stop-color="#dedede"/><stop offset="0.8938" stop-color="#dddddd"/><stop offset="0.9" stop-color="#dbdbdb"/><stop offset="0.9062" stop-color="#dadada"/><stop offset="0.9125" stop-color="#d8d8d8"/><stop offset="0.9187" stop-color="#d5d5d5"/><stop offset="0.925" stop-color="#d3d3d3"/><stop offset="0.9313" stop-color="#d1d1d1"/><stop offset="0.9375" stop-color="#cecece"/><stop offset="0.9437" stop-color="#cccccc"/><stop offset="0.95" stop-color="#c8c8c8"/><stop offset="0.9563" stop-color="#c5c5c5"/><stop offset="0.9625" stop-color="#c2c2c2"/><stop offset="0.9688" stop-color="#bfbfbf"/><stop offset="0.975" stop-color="#bcbcbc"/><stop offset="0.9812" stop-color="#b9b9b9"/><stop offset="0.9875" stop-color="#b6b6b6"/><stop offset="0.9938" stop-color="#b3b3b3"/><stop offset="1" stop-color="#b0b0b0"/></linearGradient>
<linearGradient id="c6" gradientUnits="userSpaceOnUse" x1="0" y1="94.0" x2="0" y2="1115.5"><stop offset="0" stop-color="#ffffff"/><stop offset="0.00625" stop-color="#ffffff"/><stop offset="0.0125" stop-color="#ffffff"/><stop offset="0.01875" stop-color="#ffffff"/><stop offset="0.025" stop-color="#ffffff"/><stop offset="0.03125" stop-color="#ffffff"/><stop offset="0.0375" stop-color="#ffffff"/><stop offset="0.04375" stop-color="#ffffff"/><stop offset="0.05" stop-color="#ffffff"/><stop offset="0.05625" stop-color="#ffffff"/><stop offset="0.0625" stop-color="#ffffff"/><stop offset="0.06875" stop-color="#ffffff"/><stop offset="0.075" stop-color="#fefefe"/><stop offset="0.08125" stop-color="#fefefe"/><stop offset="0.0875" stop-color="#fdfdfd"/><stop offset="0.09375" stop-color="#fcfcfc"/><stop offset="0.1" stop-color="#fbfbfb"/><stop offset="0.1062" stop-color="#fafafa"/><stop offset="0.1125" stop-color="#fafafa"/><stop offset="0.1187" stop-color="#f9f9f9"/><stop offset="0.125" stop-color="#f8f8f8"/><stop offset="0.1313" stop-color="#f7f7f7"/><stop offset="0.1375" stop-color="#f6f6f6"/><stop offset="0.1437" stop-color="#f5f5f5"/><stop offset="0.15" stop-color="#f4f4f4"/><stop offset="0.1562" stop-color="#f3f3f3"/><stop offset="0.1625" stop-color="#f2f2f2"/><stop offset="0.1688" stop-color="#f2f2f2"/><stop offset="0.175" stop-color="#f1f1f1"/><stop offset="0.1812" stop-color="#f0f0f0"/><stop offset="0.1875" stop-color="#f0f0f0"/><stop offset="0.1938" stop-color="#efefef"/><stop offset="0.2" stop-color="#efefef"/><stop offset="0.2062" stop-color="#eeeeee"/><stop offset="0.2125" stop-color="#ededed"/><stop offset="0.2188" stop-color="#ededed"/><stop offset="0.225" stop-color="#ececec"/><stop offset="0.2313" stop-color="#ececec"/><stop offset="0.2375" stop-color="#ebebeb"/><stop offset="0.2437" stop-color="#eaeaea"/><stop offset="0.25" stop-color="#e9e9e9"/><stop offset="0.2562" stop-color="#e9e9e9"/><stop offset="0.2625" stop-color="#e8e8e8"/><stop offset="0.2687" stop-color="#e7e7e7"/><stop offset="0.275" stop-color="#e6e6e6"/><stop offset="0.2812" stop-color="#e5e5e5"/><stop offset="0.2875" stop-color="#e4e4e4"/><stop offset="0.2938" stop-color="#e3e3e3"/><stop offset="0.3" stop-color="#e3e3e3"/><stop offset="0.3063" stop-color="#e2e2e2"/><stop offset="0.3125" stop-color="#e1e1e1"/><stop offset="0.3187" stop-color="#e0e0e0"/><stop offset="0.325" stop-color="#dfdfdf"/><stop offset="0.3312" stop-color="#dedede"/><stop offset="0.3375" stop-color="#dddddd"/><stop offset="0.3438" stop-color="#dcdcdc"/><stop offset="0.35" stop-color="#dcdcdc"/><stop offset="0.3563" stop-color="#dbdbdb"/><stop offset="0.3625" stop-color="#dadada"/><stop offset="0.3688" stop-color="#d9d9d9"/><stop offset="0.375" stop-color="#d8d8d8"/><stop offset="0.3812" stop-color="#d7d7d7"/><stop offset="0.3875" stop-color="#d6d6d6"/><stop offset="0.3937" stop-color="#d5d5d5"/><stop offset="0.4" stop-color="#d4d4d4"/><stop offset="0.4062" stop-color="#d4d4d4"/><stop offset="0.4125" stop-color="#d3d3d3"/><stop offset="0.4188" stop-color="#d3d3d3"/><stop offset="0.425" stop-color="#d2d2d2"/><stop offset="0.4313" stop-color="#d2d2d2"/><stop offset="0.4375" stop-color="#d2d2d2"/><stop offset="0.4437" stop-color="#d2d2d2"/><stop offset="0.45" stop-color="#d2d2d2"/><stop offset="0.4562" stop-color="#d4d4d4"/><stop offset="0.4625" stop-color="#d5d5d5"/><stop offset="0.4688" stop-color="#d7d7d7"/><stop offset="0.475" stop-color="#d8d8d8"/><stop offset="0.4813" stop-color="#dadada"/><stop offset="0.4875" stop-color="#dbdbdb"/><stop offset="0.4938" stop-color="#dcdcdc"/><stop offset="0.5" stop-color="#dedede"/><stop offset="0.5062" stop-color="#dfdfdf"/><stop offset="0.5125" stop-color="#e1e1e1"/><stop offset="0.5188" stop-color="#e2e2e2"/><stop offset="0.525" stop-color="#e3e3e3"/><stop offset="0.5312" stop-color="#e4e4e4"/><stop offset="0.5375" stop-color="#e4e4e4"/><stop offset="0.5437" stop-color="#e5e5e5"/><stop offset="0.55" stop-color="#e5e5e5"/><stop offset="0.5563" stop-color="#e6e6e6"/><stop offset="0.5625" stop-color="#e6e6e6"/><stop offset="0.5687" stop-color="#e7e7e7"/><stop offset="0.575" stop-color="#e7e7e7"/><stop offset="0.5813" stop-color="#e8e8e8"/><stop offset="0.5875" stop-color="#e8e8e8"/><stop offset="0.5938" stop-color="#e9e9e9"/><stop offset="0.6" stop-color="#e9e9e9"/><stop offset="0.6062" stop-color="#e9e9e9"/><stop offset="0.6125" stop-color="#eaeaea"/><stop offset="0.6188" stop-color="#eaeaea"/><stop offset="0.625" stop-color="#eaeaea"/><stop offset="0.6312" stop-color="#eaeaea"/><stop offset="0.6375" stop-color="#ebebeb"/><stop offset="0.6438" stop-color="#ebebeb"/><stop offset="0.65" stop-color="#ebebeb"/><stop offset="0.6562" stop-color="#ebebeb"/><stop offset="0.6625" stop-color="#ebebeb"/><stop offset="0.6687" stop-color="#ebebeb"/><stop offset="0.675" stop-color="#ebebeb"/><stop offset="0.6813" stop-color="#ebebeb"/><stop offset="0.6875" stop-color="#ebebeb"/><stop offset="0.6937" stop-color="#ebebeb"/><stop offset="0.7" stop-color="#ebebeb"/><stop offset="0.7063" stop-color="#ebebeb"/><stop offset="0.7125" stop-color="#ebebeb"/><stop offset="0.7188" stop-color="#ebebeb"/><stop offset="0.725" stop-color="#ebebeb"/><stop offset="0.7312" stop-color="#ebebeb"/><stop offset="0.7375" stop-color="#ebebeb"/><stop offset="0.7438" stop-color="#ebebeb"/><stop offset="0.75" stop-color="#ebebeb"/><stop offset="0.7562" stop-color="#ebebeb"/><stop offset="0.7625" stop-color="#ebebeb"/><stop offset="0.7688" stop-color="#ebebeb"/><stop offset="0.775" stop-color="#ebebeb"/><stop offset="0.7812" stop-color="#ebebeb"/><stop offset="0.7875" stop-color="#ebebeb"/><stop offset="0.7937" stop-color="#ebebeb"/><stop offset="0.8" stop-color="#ebebeb"/><stop offset="0.8063" stop-color="#ebebeb"/><stop offset="0.8125" stop-color="#ebebeb"/><stop offset="0.8187" stop-color="#eaeaea"/><stop offset="0.825" stop-color="#eaeaea"/><stop offset="0.8313" stop-color="#eaeaea"/><stop offset="0.8375" stop-color="#eaeaea"/><stop offset="0.8438" stop-color="#e9e9e9"/><stop offset="0.85" stop-color="#e9e9e9"/><stop offset="0.8562" stop-color="#e9e9e9"/><stop offset="0.8625" stop-color="#e8e8e8"/><stop offset="0.8688" stop-color="#e8e8e8"/><stop offset="0.875" stop-color="#e7e7e7"/><stop offset="0.8812" stop-color="#e6e6e6"/><stop offset="0.8875" stop-color="#e6e6e6"/><stop offset="0.8938" stop-color="#e5e5e5"/><stop offset="0.9" stop-color="#e4e4e4"/><stop offset="0.9062" stop-color="#e2e2e2"/><stop offset="0.9125" stop-color="#e1e1e1"/><stop offset="0.9187" stop-color="#dfdfdf"/><stop offset="0.925" stop-color="#dddddd"/><stop offset="0.9313" stop-color="#dbdbdb"/><stop offset="0.9375" stop-color="#d9d9d9"/><stop offset="0.9437" stop-color="#d6d6d6"/><stop offset="0.95" stop-color="#d3d3d3"/><stop offset="0.9563" stop-color="#cfcfcf"/><stop offset="0.9625" stop-color="#cbcbcb"/><stop offset="0.9688" stop-color="#c7c7c7"/><stop offset="0.975" stop-color="#c3c3c3"/><stop offset="0.9812" stop-color="#c0c0c0"/><stop offset="0.9875" stop-color="#bdbdbd"/><stop offset="0.9938" stop-color="#bbbbbb"/><stop offset="1" stop-color="#b8b8b8"/></linearGradient>
<linearGradient id="c7" gradientUnits="userSpaceOnUse" x1="0" y1="94.0" x2="0" y2="1115.5"><stop offset="0" stop-color="#ffffff"/><stop offset="0.00625" stop-color="#ffffff"/><stop offset="0.0125" stop-color="#ffffff"/><stop offset="0.01875" stop-color="#ffffff"/><stop offset="0.025" stop-color="#ffffff"/><stop offset="0.03125" stop-color="#ffffff"/><stop offset="0.0375" stop-color="#ffffff"/><stop offset="0.04375" stop-color="#ffffff"/><stop offset="0.05" stop-color="#ffffff"/><stop offset="0.05625" stop-color="#ffffff"/><stop offset="0.0625" stop-color="#ffffff"/><stop offset="0.06875" stop-color="#ffffff"/><stop offset="0.075" stop-color="#ffffff"/><stop offset="0.08125" stop-color="#ffffff"/><stop offset="0.0875" stop-color="#ffffff"/><stop offset="0.09375" stop-color="#fefefe"/><stop offset="0.1" stop-color="#fefefe"/><stop offset="0.1062" stop-color="#fdfdfd"/><stop offset="0.1125" stop-color="#fdfdfd"/><stop offset="0.1187" stop-color="#fcfcfc"/><stop offset="0.125" stop-color="#fcfcfc"/><stop offset="0.1313" stop-color="#fbfbfb"/><stop offset="0.1375" stop-color="#fafafa"/><stop offset="0.1437" stop-color="#fafafa"/><stop offset="0.15" stop-color="#f9f9f9"/><stop offset="0.1562" stop-color="#f9f9f9"/><stop offset="0.1625" stop-color="#f8f8f8"/><stop offset="0.1688" stop-color="#f8f8f8"/><stop offset="0.175" stop-color="#f7f7f7"/><stop offset="0.1812" stop-color="#f7f7f7"/><stop offset="0.1875" stop-color="#f6f6f6"/><stop offset="0.1938" stop-color="#f6f6f6"/><stop offset="0.2" stop-color="#f5f5f5"/><stop offset="0.2062" stop-color="#f4f4f4"/><stop offset="0.2125" stop-color="#f4f4f4"/><stop offset="0.2188" stop-color="#f3f3f3"/><stop offset="0.225" stop-color="#f3f3f3"/><stop offset="0.2313" stop-color="#f2f2f2"/><stop offset="0.2375" stop-color="#f1f1f1"/><stop offset="0.2437" stop-color="#f1f1f1"/><stop offset="0.25" stop-color="#f0f0f0"/><stop offset="0.2562" stop-color="#efefef"/><stop offset="0.2625" stop-color="#eeeeee"/><stop offset="0.2687" stop-color="#eeeeee"/><stop offset="0.275" stop-color="#ededed"/><stop offset="0.2812" stop-color="#ececec"/><stop offset="0.2875" stop-color="#ebebeb"/><stop offset="0.2938" stop-color="#ebebeb"/><stop offset="0.3" stop-color="#eaeaea"/><stop offset="0.3063" stop-color="#e9e9e9"/><stop offset="0.3125" stop-color="#e8e8e8"/><stop offset="0.3187" stop-color="#e8e8e8"/><stop offset="0.325" stop-color="#e7e7e7"/><stop offset="0.3312" stop-color="#e6e6e6"/><stop offset="0.3375" stop-color="#e5e5e5"/><stop offset="0.3438" stop-color="#e4e4e4"/><stop offset="0.35" stop-color="#e3e3e3"/><stop offset="0.3563" stop-color="#e3e3e3"/><stop offset="0.3625" stop-color="#e2e2e2"/><stop offset="0.3688" stop-color="#e1e1e1"/><stop offset="0.375" stop-color="#dfdfdf"/><stop offset="0.3812" stop-color="#dedede"/><stop offset="0.3875" stop-color="#dddddd"/><stop offset="0.3937" stop-color="#dcdcdc"/><stop offset="0.4" stop-color="#dbdbdb"/><stop offset="0.4062" stop-color="#dadada"/><stop offset="0.4125" stop-color="#dadada"/><stop offset="0.4188" stop-color="#d9d9d9"/><stop offset="0.425" stop-color="#d8d8d8"/><stop offset="0.4313" stop-color="#d8d8d8"/><stop offset="0.4375" stop-color="#d8d8d8"/><stop offset="0.4437" stop-color="#d8d8d8"/><stop offset="0.45" stop-color="#dadada"/><stop offset="0.4562" stop-color="#dbdbdb"/><stop offset="0.4625" stop-color="#dddddd"/><stop offset="0.4688" stop-color="#dedede"/><stop offset="0.475" stop-color="#e0e0e0"/><stop offset="0.4813" stop-color="#e1e1e1"/><stop offset="0.4875" stop-color="#e3e3e3"/><stop offset="0.4938" stop-color="#e4e4e4"/><stop offset="0.5" stop-color="#e5e5e5"/><stop offset="0.5062" stop-color="#e6e6e6"/><stop offset="0.5125" stop-color="#e7e7e7"/><stop offset="0.5188" stop-color="#e8e8e8"/><stop offset="0.525" stop-color="#e9e9e9"/><stop offset="0.5312" stop-color="#e9e9e9"/><stop offset="0.5375" stop-color="#e9e9e9"/><stop offset="0.5437" stop-color="#eaeaea"/><stop offset="0.55" stop-color="#eaeaea"/><stop offset="0.5563" stop-color="#ebebeb"/><stop offset="0.5625" stop-color="#ebebeb"/><stop offset="0.5687" stop-color="#ebebeb"/><stop offset="0.575" stop-color="#ececec"/><stop offset="0.5813" stop-color="#ececec"/><stop offset="0.5875" stop-color="#ececec"/><stop offset="0.5938" stop-color="#ececec"/><stop offset="0.6" stop-color="#ededed"/><stop offset="0.6062" stop-color="#ededed"/><stop offset="0.6125" stop-color="#ededed"/><stop offset="0.6188" stop-color="#ededed"/><stop offset="0.625" stop-color="#ededed"/><stop offset="0.6312" stop-color="#eeeeee"/><stop offset="0.6375" stop-color="#eeeeee"/><stop offset="0.6438" stop-color="#eeeeee"/><stop offset="0.65" stop-color="#eeeeee"/><stop offset="0.6562" stop-color="#eeeeee"/><stop offset="0.6625" stop-color="#eeeeee"/><stop offset="0.6687" stop-color="#eeeeee"/><stop offset="0.675" stop-color="#eeeeee"/><stop offset="0.6813" stop-color="#eeeeee"/><stop offset="0.6875" stop-color="#eeeeee"/><stop offset="0.6937" stop-color="#eeeeee"/><stop offset="0.7" stop-color="#eeeeee"/><stop offset="0.7063" stop-color="#eeeeee"/><stop offset="0.7125" stop-color="#eeeeee"/><stop offset="0.7188" stop-color="#eeeeee"/><stop offset="0.725" stop-color="#eeeeee"/><stop offset="0.7312" stop-color="#eeeeee"/><stop offset="0.7375" stop-color="#eeeeee"/><stop offset="0.7438" stop-color="#eeeeee"/><stop offset="0.75" stop-color="#eeeeee"/><stop offset="0.7562" stop-color="#eeeeee"/><stop offset="0.7625" stop-color="#eeeeee"/><stop offset="0.7688" stop-color="#eeeeee"/><stop offset="0.775" stop-color="#eeeeee"/><stop offset="0.7812" stop-color="#eeeeee"/><stop offset="0.7875" stop-color="#eeeeee"/><stop offset="0.7937" stop-color="#eeeeee"/><stop offset="0.8" stop-color="#eeeeee"/><stop offset="0.8063" stop-color="#eeeeee"/><stop offset="0.8125" stop-color="#eeeeee"/><stop offset="0.8187" stop-color="#eeeeee"/><stop offset="0.825" stop-color="#eeeeee"/><stop offset="0.8313" stop-color="#ededed"/><stop offset="0.8375" stop-color="#ededed"/><stop offset="0.8438" stop-color="#ededed"/><stop offset="0.85" stop-color="#ededed"/><stop offset="0.8562" stop-color="#ececec"/><stop offset="0.8625" stop-color="#ececec"/><stop offset="0.8688" stop-color="#ececec"/><stop offset="0.875" stop-color="#ebebeb"/><stop offset="0.8812" stop-color="#ebebeb"/><stop offset="0.8875" stop-color="#eaeaea"/><stop offset="0.8938" stop-color="#eaeaea"/><stop offset="0.9" stop-color="#e9e9e9"/><stop offset="0.9062" stop-color="#e8e8e8"/><stop offset="0.9125" stop-color="#e7e7e7"/><stop offset="0.9187" stop-color="#e5e5e5"/><stop offset="0.925" stop-color="#e4e4e4"/><stop offset="0.9313" stop-color="#e3e3e3"/><stop offset="0.9375" stop-color="#e1e1e1"/><stop offset="0.9437" stop-color="#dfdfdf"/><stop offset="0.95" stop-color="#dddddd"/><stop offset="0.9563" stop-color="#dadada"/><stop offset="0.9625" stop-color="#d8d8d8"/><stop offset="0.9688" stop-color="#d5d5d5"/><stop offset="0.975" stop-color="#d2d2d2"/><stop offset="0.9812" stop-color="#d0d0d0"/><stop offset="0.9875" stop-color="#cecece"/><stop offset="0.9938" stop-color="#cccccc"/><stop offset="1" stop-color="#cacaca"/></linearGradient>
<linearGradient id="c8" gradientUnits="userSpaceOnUse" x1="0" y1="94.0" x2="0" y2="1115.5"><stop offset="0" stop-color="#ffffff"/><stop offset="0.00625" stop-color="#ffffff"/><stop offset="0.0125" stop-color="#ffffff"/><stop offset="0.01875" stop-color="#ffffff"/><stop offset="0.025" stop-color="#ffffff"/><stop offset="0.03125" stop-color="#ffffff"/><stop offset="0.0375" stop-color="#ffffff"/><stop offset="0.04375" stop-color="#ffffff"/><stop offset="0.05" stop-color="#ffffff"/><stop offset="0.05625" stop-color="#ffffff"/><stop offset="0.0625" stop-color="#ffffff"/><stop offset="0.06875" stop-color="#ffffff"/><stop offset="0.075" stop-color="#ffffff"/><stop offset="0.08125" stop-color="#ffffff"/><stop offset="0.0875" stop-color="#ffffff"/><stop offset="0.09375" stop-color="#ffffff"/><stop offset="0.1" stop-color="#ffffff"/><stop offset="0.1062" stop-color="#ffffff"/><stop offset="0.1125" stop-color="#ffffff"/><stop offset="0.1187" stop-color="#fefefe"/><stop offset="0.125" stop-color="#fefefe"/><stop offset="0.1313" stop-color="#fdfdfd"/><stop offset="0.1375" stop-color="#fdfdfd"/><stop offset="0.1437" stop-color="#fdfdfd"/><stop offset="0.15" stop-color="#fcfcfc"/><stop offset="0.1562" stop-color="#fcfcfc"/><stop offset="0.1625" stop-color="#fcfcfc"/><stop offset="0.1688" stop-color="#fbfbfb"/><stop offset="0.175" stop-color="#fbfbfb"/><stop offset="0.1812" stop-color="#fbfbfb"/><stop offset="0.1875" stop-color="#fafafa"/><stop offset="0.1938" stop-color="#fafafa"/><stop offset="0.2" stop-color="#f9f9f9"/><stop offset="0.2062" stop-color="#f8f8f8"/><stop offset="0.2125" stop-color="#f8f8f8"/><stop offset="0.2188" stop-color="#f7f7f7"/><stop offset="0.225" stop-color="#f6f6f6"/><stop offset="0.2313" stop-color="#f6f6f6"/><stop offset="0.2375" stop-color="#f5f5f5"/><stop offset="0.2437" stop-color="#f4f4f4"/><stop offset="0.25" stop-color="#f4f4f4"/><stop offset="0.2562" stop-color="#f3f3f3"/><stop offset="0.2625" stop-color="#f2f2f2"/><stop offset="0.2687" stop-color="#f2f2f2"/><stop offset="0.275" stop-color="#f1f1f1"/><stop offset="0.2812" stop-color="#f0f0f0"/><stop offset="0.2875" stop-color="#f0f0f0"/><stop offset="0.2938" stop-color="#efefef"/><stop offset="0.3" stop-color="#eeeeee"/><stop offset="0.3063" stop-color="#eeeeee"/><stop offset="0.3125" stop-color="#ededed"/><stop offset="0.3187" stop-color="#ececec"/><stop offset="0.325" stop-color="#ebebeb"/><stop offset="0.3312" stop-color="#ebebeb"/><stop offset="0.3375" stop-color="#eaeaea"/><stop offset="0.3438" stop-color="#e9e9e9"/><stop offset="0.35" stop-color="#e8e8e8"/><stop offset="0.3563" stop-color="#e7e7e7"/><stop offset="0.3625" stop-color="#e6e6e6"/><stop offset="0.3688" stop-color="#e5e5e5"/><stop offset="0.375" stop-color="#e4e4e4"/><stop offset="0.3812" stop-color="#e3e3e3"/><stop offset="0.3875" stop-color="#e2e2e2"/><stop offset="0.3937" stop-color="#e1e1e1"/><stop offset="0.4" stop-color="#dfdfdf"/><stop offset="0.4062" stop-color="#dedede"/><stop offset="0.4125" stop-color="#dddddd"/><stop offset="0.4188" stop-color="#dcdcdc"/><stop offset="0.425" stop-color="#dbdbdb"/><stop offset="0.4313" stop-color="#dbdbdb"/><stop offset="0.4375" stop-color="#dbdbdb"/><stop offset="0.4437" stop-color="#dcdcdc"/><stop offset="0.45" stop-color="#dedede"/><stop offset="0.4562" stop-color="#e0e0e0"/><stop offset="0.4625" stop-color="#e1e1e1"/><stop offset="0.4688" stop-color="#e3e3e3"/><stop offset="0.475" stop-color="#e4e4e4"/><stop offset="0.4813" stop-color="#e6e6e6"/><stop offset="0.4875" stop-color="#e7e7e7"/><stop offset="0.4938" stop-color="#e9e9e9"/><stop offset="0.5" stop-color="#e9e9e9"/><stop offset="0.5062" stop-color="#eaeaea"/><stop offset="0.5125" stop-color="#ebebeb"/><stop offset="0.5188" stop-color="#ebebeb"/><stop offset="0.525" stop-color="#ececec"/><stop offset="0.5312" stop-color="#ececec"/><stop offset="0.5375" stop-color="#ececec"/><stop offset="0.5437" stop-color="#ededed"/><stop offset="0.55" stop-color="#ededed"/><stop offset="0.5563" stop-color="#ededed"/><stop offset="0.5625" stop-color="#eeeeee"/><stop offset="0.5687" stop-color="#eeeeee"/><stop offset="0.575" stop-color="#eeeeee"/><stop offset="0.5813" stop-color="#eeeeee"/><stop offset="0.5875" stop-color="#eeeeee"/><stop offset="0.5938" stop-color="#efefef"/><stop offset="0.6" stop-color="#efefef"/><stop offset="0.6062" stop-color="#efefef"/><stop offset="0.6125" stop-color="#efefef"/><stop offset="0.6188" stop-color="#efefef"/><stop offset="0.625" stop-color="#efefef"/><stop offset="0.6312" stop-color="#f0f0f0"/><stop offset="0.6375" stop-color="#f0f0f0"/><stop offset="0.6438" stop-color="#f0f0f0"/><stop offset="0.65" stop-color="#f0f0f0"/><stop offset="0.6562" stop-color="#f0f0f0"/><stop offset="0.6625" stop-color="#f0f0f0"/><stop offset="0.6687" stop-color="#f0f0f0"/><stop offset="0.675" stop-color="#f0f0f0"/><stop offset="0.6813" stop-color="#f0f0f0"/><stop offset="0.6875" stop-color="#f0f0f0"/><stop offset="0.6937" stop-color="#f0f0f0"/><stop offset="0.7" stop-color="#f0f0f0"/><stop offset="0.7063" stop-color="#f0f0f0"/><stop offset="0.7125" stop-color="#f0f0f0"/><stop offset="0.7188" stop-color="#f0f0f0"/><stop offset="0.725" stop-color="#f0f0f0"/><stop offset="0.7312" stop-color="#f0f0f0"/><stop offset="0.7375" stop-color="#f0f0f0"/><stop offset="0.7438" stop-color="#f0f0f0"/><stop offset="0.75" stop-color="#f0f0f0"/><stop offset="0.7562" stop-color="#f0f0f0"/><stop offset="0.7625" stop-color="#f0f0f0"/><stop offset="0.7688" stop-color="#f0f0f0"/><stop offset="0.775" stop-color="#f0f0f0"/><stop offset="0.7812" stop-color="#f0f0f0"/><stop offset="0.7875" stop-color="#f0f0f0"/><stop offset="0.7937" stop-color="#f0f0f0"/><stop offset="0.8" stop-color="#f0f0f0"/><stop offset="0.8063" stop-color="#f0f0f0"/><stop offset="0.8125" stop-color="#f0f0f0"/><stop offset="0.8187" stop-color="#f0f0f0"/><stop offset="0.825" stop-color="#f0f0f0"/><stop offset="0.8313" stop-color="#efefef"/><stop offset="0.8375" stop-color="#efefef"/><stop offset="0.8438" stop-color="#efefef"/><stop offset="0.85" stop-color="#efefef"/><stop offset="0.8562" stop-color="#efefef"/><stop offset="0.8625" stop-color="#eeeeee"/><stop offset="0.8688" stop-color="#eeeeee"/><stop offset="0.875" stop-color="#eeeeee"/><stop offset="0.8812" stop-color="#ededed"/><stop offset="0.8875" stop-color="#ededed"/><stop offset="0.8938" stop-color="#ececec"/><stop offset="0.9" stop-color="#ececec"/><stop offset="0.9062" stop-color="#ebebeb"/><stop offset="0.9125" stop-color="#eaeaea"/><stop offset="0.9187" stop-color="#e9e9e9"/><stop offset="0.925" stop-color="#e8e8e8"/><stop offset="0.9313" stop-color="#e7e7e7"/><stop offset="0.9375" stop-color="#e6e6e6"/><stop offset="0.9437" stop-color="#e5e5e5"/><stop offset="0.95" stop-color="#e3e3e3"/><stop offset="0.9563" stop-color="#e1e1e1"/><stop offset="0.9625" stop-color="#dfdfdf"/><stop offset="0.9688" stop-color="#dddddd"/><stop offset="0.975" stop-color="#dbdbdb"/><stop offset="0.9812" stop-color="#d9d9d9"/><stop offset="0.9875" stop-color="#d8d8d8"/><stop offset="0.9938" stop-color="#d6d6d6"/><stop offset="1" stop-color="#d4d4d4"/></linearGradient>
<linearGradient id="c9" gradientUnits="userSpaceOnUse" x1="0" y1="94.0" x2="0" y2="1115.5"><stop offset="0" stop-color="#ffffff"/><stop offset="0.00625" stop-color="#ffffff"/><stop offset="0.0125" stop-color="#ffffff"/><stop offset="0.01875" stop-color="#ffffff"/><stop offset="0.025" stop-color="#ffffff"/><stop offset="0.03125" stop-color="#ffffff"/><stop offset="0.0375" stop-color="#ffffff"/><stop offset="0.04375" stop-color="#ffffff"/><stop offset="0.05" stop-color="#ffffff"/><stop offset="0.05625" stop-color="#ffffff"/><stop offset="0.0625" stop-color="#ffffff"/><stop offset="0.06875" stop-color="#ffffff"/><stop offset="0.075" stop-color="#ffffff"/><stop offset="0.08125" stop-color="#ffffff"/><stop offset="0.0875" stop-color="#ffffff"/><stop offset="0.09375" stop-color="#ffffff"/><stop offset="0.1" stop-color="#ffffff"/><stop offset="0.1062" stop-color="#ffffff"/><stop offset="0.1125" stop-color="#ffffff"/><stop offset="0.1187" stop-color="#ffffff"/><stop offset="0.125" stop-color="#ffffff"/><stop offset="0.1313" stop-color="#ffffff"/><stop offset="0.1375" stop-color="#ffffff"/><stop offset="0.1437" stop-color="#ffffff"/><stop offset="0.15" stop-color="#fefefe"/><stop offset="0.1562" stop-color="#fefefe"/><stop offset="0.1625" stop-color="#fefefe"/><stop offset="0.1688" stop-color="#fefefe"/><stop offset="0.175" stop-color="#fdfdfd"/><stop offset="0.1812" stop-color="#fdfdfd"/><stop offset="0.1875" stop-color="#fdfdfd"/><stop offset="0.1938" stop-color="#fcfcfc"/><stop offset="0.2" stop-color="#fcfcfc"/><stop offset="0.2062" stop-color="#fbfbfb"/><stop offset="0.2125" stop-color="#fafafa"/><stop offset="0.2188" stop-color="#fafafa"/><stop offset="0.225" stop-color="#f9f9f9"/><stop offset="0.2313" stop-color="#f8f8f8"/><stop offset="0.2375" stop-color="#f8f8f8"/><stop offset="0.2437" stop-color="#f7f7f7"/><stop offset="0.25" stop-color="#f6f6f6"/><stop offset="0.2562" stop-color="#f6f6f6"/><stop offset="0.2625" stop-color="#f5f5f5"/><stop offset="0.2687" stop-color="#f4f4f4"/><stop offset="0.275" stop-color="#f4f4f4"/><stop offset="0.2812" stop-color="#f3f3f3"/><stop offset="0.2875" stop-color="#f3f3f3"/><stop offset="0.2938" stop-color="#f2f2f2"/><stop offset="0.3" stop-color="#f1f1f1"/><stop offset="0.3063" stop-color="#f1f1f1"/><stop offset="0.3125" stop-color="#f0f0f0"/><stop offset="0.3187" stop-color="#efefef"/><stop offset="0.325" stop-color="#efefef"/><stop offset="0.3312" stop-color="#eeeeee"/><stop offset="0.3375" stop-color="#ededed"/><stop offset="0.3438" stop-color="#ececec"/><stop offset="0.35" stop-color="#ebebeb"/><stop offset="0.3563" stop-color="#eaeaea"/><stop offset="0.3625" stop-color="#e9e9e9"/><stop offset="0.3688" stop-color="#e8e8e8"/><stop offset="0.375" stop-color="#e7e7e7"/><stop offset="0.3812" stop-color="#e6e6e6"/><stop offset="0.3875" stop-color="#e5e5e5"/><stop offset="0.3937" stop-color="#e3e3e3"/><stop offset="0.4" stop-color="#e2e2e2"/><stop offset="0.4062" stop-color="#e1e1e1"/><stop offset="0.4125" stop-color="#e0e0e0"/><stop offset="0.4188" stop-color="#dfdfdf"/><stop offset="0.425" stop-color="#dedede"/><stop offset="0.4313" stop-color="#dddddd"/><stop offset="0.4375" stop-color="#dedede"/><stop offset="0.4437" stop-color="#dfdfdf"/><stop offset="0.45" stop-color="#e1e1e1"/><stop offset="0.4562" stop-color="#e3e3e3"/><stop offset="0.4625" stop-color="#e4e4e4"/><stop offset="0.4688" stop-color="#e6e6e6"/><stop offset="0.475" stop-color="#e8e8e8"/><stop offset="0.4813" stop-color="#e9e9e9"/><stop offset="0.4875" stop-color="#ebebeb"/><stop offset="0.4938" stop-color="#ececec"/><stop offset="0.5" stop-color="#ececec"/><stop offset="0.5062" stop-color="#ededed"/><stop offset="0.5125" stop-color="#ededed"/><stop offset="0.5188" stop-color="#eeeeee"/><stop offset="0.525" stop-color="#eeeeee"/><stop offset="0.5312" stop-color="#eeeeee"/><stop offset="0.5375" stop-color="#efefef"/><stop offset="0.5437" stop-color="#efefef"/><stop offset="0.55" stop-color="#efefef"/><stop offset="0.5563" stop-color="#efefef"/><stop offset="0.5625" stop-color="#efefef"/><stop offset="0.5687" stop-color="#f0f0f0"/><stop offset="0.575" stop-color="#f0f0f0"/><stop offset="0.5813" stop-color="#f0f0f0"/><stop offset="0.5875" stop-color="#f0f0f0"/><stop offset="0.5938" stop-color="#f0f0f0"/><stop offset="0.6" stop-color="#f0f0f0"/><stop offset="0.6062" stop-color="#f0f0f0"/><stop offset="0.6125" stop-color="#f0f0f0"/><stop offset="0.6188" stop-color="#f1f1f1"/><stop offset="0.625" stop-color="#f1f1f1"/><stop offset="0.6312" stop-color="#f1f1f1"/><stop offset="0.6375" stop-color="#f1f1f1"/><stop offset="0.6438" stop-color="#f1f1f1"/><stop offset="0.65" stop-color="#f1f1f1"/><stop offset="0.6562" stop-color="#f1f1f1"/><stop offset="0.6625" stop-color="#f1f1f1"/><stop offset="0.6687" stop-color="#f1f1f1"/><stop offset="0.675" stop-color="#f1f1f1"/><stop offset="0.6813" stop-color="#f1f1f1"/><stop offset="0.6875" stop-color="#f1f1f1"/><stop offset="0.6937" stop-color="#f2f2f2"/><stop offset="0.7" stop-color="#f2f2f2"/><stop offset="0.7063" stop-color="#f2f2f2"/><stop offset="0.7125" stop-color="#f2f2f2"/><stop offset="0.7188" stop-color="#f2f2f2"/><stop offset="0.725" stop-color="#f2f2f2"/><stop offset="0.7312" stop-color="#f2f2f2"/><stop offset="0.7375" stop-color="#f2f2f2"/><stop offset="0.7438" stop-color="#f2f2f2"/><stop offset="0.75" stop-color="#f2f2f2"/><stop offset="0.7562" stop-color="#f2f2f2"/><stop offset="0.7625" stop-color="#f2f2f2"/><stop offset="0.7688" stop-color="#f2f2f2"/><stop offset="0.775" stop-color="#f2f2f2"/><stop offset="0.7812" stop-color="#f2f2f2"/><stop offset="0.7875" stop-color="#f2f2f2"/><stop offset="0.7937" stop-color="#f1f1f1"/><stop offset="0.8" stop-color="#f1f1f1"/><stop offset="0.8063" stop-color="#f1f1f1"/><stop offset="0.8125" stop-color="#f1f1f1"/><stop offset="0.8187" stop-color="#f1f1f1"/><stop offset="0.825" stop-color="#f1f1f1"/><stop offset="0.8313" stop-color="#f1f1f1"/><stop offset="0.8375" stop-color="#f1f1f1"/><stop offset="0.8438" stop-color="#f0f0f0"/><stop offset="0.85" stop-color="#f0f0f0"/><stop offset="0.8562" stop-color="#f0f0f0"/><stop offset="0.8625" stop-color="#f0f0f0"/><stop offset="0.8688" stop-color="#f0f0f0"/><stop offset="0.875" stop-color="#efefef"/><stop offset="0.8812" stop-color="#efefef"/><stop offset="0.8875" stop-color="#efefef"/><stop offset="0.8938" stop-color="#eeeeee"/><stop offset="0.9" stop-color="#eeeeee"/><stop offset="0.9062" stop-color="#ededed"/><stop offset="0.9125" stop-color="#ececec"/><stop offset="0.9187" stop-color="#ececec"/><stop offset="0.925" stop-color="#ebebeb"/><stop offset="0.9313" stop-color="#eaeaea"/><stop offset="0.9375" stop-color="#e9e9e9"/><stop offset="0.9437" stop-color="#e8e8e8"/><stop offset="0.95" stop-color="#e7e7e7"/><stop offset="0.9563" stop-color="#e6e6e6"/><stop offset="0.9625" stop-color="#e4e4e4"/><stop offset="0.9688" stop-color="#e3e3e3"/><stop offset="0.975" stop-color="#e1e1e1"/><stop offset="0.9812" stop-color="#e0e0e0"/><stop offset="0.9875" stop-color="#dedede"/><stop offset="0.9938" stop-color="#dddddd"/><stop offset="1" stop-color="#dbdbdb"/></linearGradient>
<linearGradient id="c10" gradientUnits="userSpaceOnUse" x1="0" y1="94.0" x2="0" y2="1115.5"><stop offset="0" stop-color="#ffffff"/><stop offset="0.00625" stop-color="#ffffff"/><stop offset="0.0125" stop-color="#ffffff"/><stop offset="0.01875" stop-color="#ffffff"/><stop offset="0.025" stop-color="#ffffff"/><stop offset="0.03125" stop-color="#ffffff"/><stop offset="0.0375" stop-color="#ffffff"/><stop offset="0.04375" stop-color="#ffffff"/><stop offset="0.05" stop-color="#ffffff"/><stop offset="0.05625" stop-color="#ffffff"/><stop offset="0.0625" stop-color="#ffffff"/><stop offset="0.06875" stop-color="#ffffff"/><stop offset="0.075" stop-color="#ffffff"/><stop offset="0.08125" stop-color="#ffffff"/><stop offset="0.0875" stop-color="#ffffff"/><stop offset="0.09375" stop-color="#ffffff"/><stop offset="0.1" stop-color="#ffffff"/><stop offset="0.1062" stop-color="#ffffff"/><stop offset="0.1125" stop-color="#ffffff"/><stop offset="0.1187" stop-color="#ffffff"/><stop offset="0.125" stop-color="#ffffff"/><stop offset="0.1313" stop-color="#ffffff"/><stop offset="0.1375" stop-color="#ffffff"/><stop offset="0.1437" stop-color="#ffffff"/><stop offset="0.15" stop-color="#ffffff"/><stop offset="0.1562" stop-color="#ffffff"/><stop offset="0.1625" stop-color="#ffffff"/><stop offset="0.1688" stop-color="#ffffff"/><stop offset="0.175" stop-color="#ffffff"/><stop offset="0.1812" stop-color="#ffffff"/><stop offset="0.1875" stop-color="#fefefe"/><stop offset="0.1938" stop-color="#fefefe"/><stop offset="0.2" stop-color="#fdfdfd"/><stop offset="0.2062" stop-color="#fcfcfc"/><stop offset="0.2125" stop-color="#fcfcfc"/><stop offset="0.2188" stop-color="#fbfbfb"/><stop offset="0.225" stop-color="#fafafa"/><stop offset="0.2313" stop-color="#fafafa"/><stop offset="0.2375" stop-color="#f9f9f9"/><stop offset="0.2437" stop-color="#f8f8f8"/><stop offset="0.25" stop-color="#f8f8f8"/><stop offset="0.2562" stop-color="#f7f7f7"/><stop offset="0.2625" stop-color="#f6f6f6"/><stop offset="0.2687" stop-color="#f6f6f6"/><stop offset="0.275" stop-color="#f5f5f5"/><stop offset="0.2812" stop-color="#f5f5f5"/><stop offset="0.2875" stop-color="#f4f4f4"/><stop offset="0.2938" stop-color="#f4f4f4"/><stop offset="0.3" stop-color="#f3f3f3"/><stop offset="0.3063" stop-color="#f2f2f2"/><stop offset="0.3125" stop-color="#f2f2f2"/><stop offset="0.3187" stop-color="#f1f1f1"/><stop offset="0.325" stop-color="#f0f0f0"/><stop offset="0.3312" stop-color="#f0f0f0"/><stop offset="0.3375" stop-color="#efefef"/><stop offset="0.3438" stop-color="#eeeeee"/><stop offset="0.35" stop-color="#ededed"/><stop offset="0.3563" stop-color="#ececec"/><stop offset="0.3625" stop-color="#ebebeb"/><stop offset="0.3688" stop-color="#eaeaea"/><stop offset="0.375" stop-color="#e9e9e9"/><stop offset="0.3812" stop-color="#e7e7e7"/><stop offset="0.3875" stop-color="#e6e6e6"/><stop offset="0.3937" stop-color="#e5e5e5"/><stop offset="0.4" stop-color="#e4e4e4"/><stop offset="0.4062" stop-color="#e3e3e3"/><stop offset="0.4125" stop-color="#e1e1e1"/><stop offset="0.4188" stop-color="#e0e0e0"/><stop offset="0.425" stop-color="#dfdfdf"/><stop offset="0.4313" stop-color="#dfdfdf"/><stop offset="0.4375" stop-color="#dfdfdf"/><stop offset="0.4437" stop-color="#e1e1e1"/><stop offset="0.45" stop-color="#e2e2e2"/><stop offset="0.4562" stop-color="#e4e4e4"/><stop offset="0.4625" stop-color="#e6e6e6"/><stop offset="0.4688" stop-color="#e8e8e8"/><stop offset="0.475" stop-color="#e9e9e9"/><stop offset="0.4813" stop-color="#ebebeb"/><stop offset="0.4875" stop-color="#ececec"/><stop offset="0.4938" stop-color="#ededed"/><stop offset="0.5" stop-color="#eeeeee"/><stop offset="0.5062" stop-color="#eeeeee"/><stop offset="0.5125" stop-color="#efefef"/><stop offset="0.5188" stop-color="#efefef"/><stop offset="0.525" stop-color="#efefef"/><stop offset="0.5312" stop-color="#efefef"/><stop offset="0.5375" stop-color="#f0f0f0"/><stop offset="0.5437" stop-color="#f0f0f0"/><stop offset="0.55" stop-color="#f0f0f0"/><stop offset="0.5563" stop-color="#f0f0f0"/><stop offset="0.5625" stop-color="#f0f0f0"/><stop offset="0.5687" stop-color="#f1f1f1"/><stop offset="0.575" stop-color="#f1f1f1"/><stop offset="0.5813" stop-color="#f1f1f1"/><stop offset="0.5875" stop-color="#f1f1f1"/><stop offset="0.5938" stop-color="#f1f1f1"/><stop offset="0.6" stop-color="#f1f1f1"/><stop offset="0.6062" stop-color="#f1f1f1"/><stop offset="0.6125" stop-color="#f1f1f1"/><stop offset="0.6188" stop-color="#f1f1f1"/><stop offset="0.625" stop-color="#f1f1f1"/><stop offset="0.6312" stop-color="#f1f1f1"/><stop offset="0.6375" stop-color="#f2f2f2"/><stop offset="0.6438" stop-color="#f2f2f2"/><stop offset="0.65" stop-color="#f2f2f2"/><stop offset="0.6562" stop-color="#f2f2f2"/><stop offset="0.6625" stop-color="#f2f2f2"/><stop offset="0.6687" stop-color="#f2f2f2"/><stop offset="0.675" stop-color="#f2f2f2"/><stop offset="0.6813" stop-color="#f2f2f2"/><stop offset="0.6875" stop-color="#f2f2f2"/><stop offset="0.6937" stop-color="#f2f2f2"/><stop offset="0.7" stop-color="#f2f2f2"/><stop offset="0.7063" stop-color="#f2f2f2"/><stop offset="0.7125" stop-color="#f2f2f2"/><stop offset="0.7188" stop-color="#f2f2f2"/><stop offset="0.725" stop-color="#f2f2f2"/><stop offset="0.7312" stop-color="#f2f2f2"/><stop offset="0.7375" stop-color="#f3f3f3"/><stop offset="0.7438" stop-color="#f3f3f3"/><stop offset="0.75" stop-color="#f3f3f3"/><stop offset="0.7562" stop-color="#f3f3f3"/><stop offset="0.7625" stop-color="#f3f3f3"/><stop offset="0.7688" stop-color="#f2f2f2"/><stop offset="0.775" stop-color="#f2f2f2"/><stop offset="0.7812" stop-color="#f2f2f2"/><stop offset="0.7875" stop-color="#f2f2f2"/><stop offset="0.7937" stop-color="#f2f2f2"/><stop offset="0.8" stop-color="#f2f2f2"/><stop offset="0.8063" stop-color="#f2f2f2"/><stop offset="0.8125" stop-color="#f2f2f2"/><stop offset="0.8187" stop-color="#f2f2f2"/><stop offset="0.825" stop-color="#f2f2f2"/><stop offset="0.8313" stop-color="#f1f1f1"/><stop offset="0.8375" stop-color="#f1f1f1"/><stop offset="0.8438" stop-color="#f1f1f1"/><stop offset="0.85" stop-color="#f1f1f1"/><stop offset="0.8562" stop-color="#f1f1f1"/><stop offset="0.8625" stop-color="#f1f1f1"/><stop offset="0.8688" stop-color="#f0f0f0"/><stop offset="0.875" stop-color="#f0f0f0"/><stop offset="0.8812" stop-color="#f0f0f0"/><stop offset="0.8875" stop-color="#f0f0f0"/><stop offset="0.8938" stop-color="#efefef"/><stop offset="0.9" stop-color="#efefef"/><stop offset="0.9062" stop-color="#eeeeee"/><stop offset="0.9125" stop-color="#eeeeee"/><stop offset="0.9187" stop-color="#ededed"/><stop offset="0.925" stop-color="#ededed"/><stop offset="0.9313" stop-color="#ececec"/><stop offset="0.9375" stop-color="#ebebeb"/><stop offset="0.9437" stop-color="#eaeaea"/><stop offset="0.95" stop-color="#e9e9e9"/><stop offset="0.9563" stop-color="#e8e8e8"/><stop offset="0.9625" stop-color="#e7e7e7"/><stop offset="0.9688" stop-color="#e6e6e6"/><stop offset="0.975" stop-color="#e5e5e5"/><stop offset="0.9812" stop-color="#e3e3e3"/><stop offset="0.9875" stop-color="#e2e2e2"/><stop offset="0.9938" stop-color="#e0e0e0"/><stop offset="1" stop-color="#dfdfdf"/></linearGradient>
<linearGradient id="c11" gradientUnits="userSpaceOnUse" x1="0" y1="94.0" x2="0" y2="1115.5"><stop offset="0" stop-color="#ffffff"/><stop offset="0.00625" stop-color="#ffffff"/><stop offset="0.0125" stop-color="#ffffff"/><stop offset="0.01875" stop-color="#ffffff"/><stop offset="0.025" stop-color="#ffffff"/><stop offset="0.03125" stop-color="#ffffff"/><stop offset="0.0375" stop-color="#ffffff"/><stop offset="0.04375" stop-color="#ffffff"/><stop offset="0.05" stop-color="#ffffff"/><stop offset="0.05625" stop-color="#ffffff"/><stop offset="0.0625" stop-color="#ffffff"/><stop offset="0.06875" stop-color="#ffffff"/><stop offset="0.075" stop-color="#ffffff"/><stop offset="0.08125" stop-color="#ffffff"/><stop offset="0.0875" stop-color="#ffffff"/><stop offset="0.09375" stop-color="#ffffff"/><stop offset="0.1" stop-color="#ffffff"/><stop offset="0.1062" stop-color="#ffffff"/><stop offset="0.1125" stop-color="#ffffff"/><stop offset="0.1187" stop-color="#ffffff"/><stop offset="0.125" stop-color="#ffffff"/><stop offset="0.1313" stop-color="#ffffff"/><stop offset="0.1375" stop-color="#ffffff"/><stop offset="0.1437" stop-color="#ffffff"/><stop offset="0.15" stop-color="#ffffff"/><stop offset="0.1562" stop-color="#ffffff"/><stop offset="0.1625" stop-color="#ffffff"/><stop offset="0.1688" stop-color="#ffffff"/><stop offset="0.175" stop-color="#ffffff"/><stop offset="0.1812" stop-color="#ffffff"/><stop offset="0.1875" stop-color="#fefefe"/><stop offset="0.1938" stop-color="#fefefe"/><stop offset="0.2" stop-color="#fdfdfd"/><stop offset="0.2062" stop-color="#fdfdfd"/><stop offset="0.2125" stop-color="#fcfcfc"/><stop offset="0.2188" stop-color="#fbfbfb"/><stop offset="0.225" stop-color="#fbfbfb"/><stop offset="0.2313" stop-color="#fafafa"/><stop offset="0.2375" stop-color="#fafafa"/><stop offset="0.2437" stop-color="#f9f9f9"/><stop offset="0.25" stop-color="#f8f8f8"/><stop offset="0.2562" stop-color="#f8f8f8"/><stop offset="0.2625" stop-color="#f7f7f7"/><stop offset="0.2687" stop-color="#f7f7f7"/><stop offset="0.275" stop-color="#f6f6f6"/><stop offset="0.2812" stop-color="#f6f6f6"/><stop offset="0.2875" stop-color="#f5f5f5"/><stop offset="0.2938" stop-color="#f5f5f5"/><stop offset="0.3" stop-color="#f4f4f4"/><stop offset="0.3063" stop-color="#f3f3f3"/><stop offset="0.3125" stop-color="#f3f3f3"/><stop offset="0.3187" stop-color="#f2f2f2"/><stop offset="0.325" stop-color="#f2f2f2"/><stop offset="0.3312" stop-color="#f1f1f1"/><stop offset="0.3375" stop-color="#f0f0f0"/><stop offset="0.3438" stop-color="#efefef"/><stop offset="0.35" stop-color="#efefef"/><stop offset="0.3563" stop-color="#eeeeee"/><stop offset="0.3625" stop-color="#ececec"/><stop offset="0.3688" stop-color="#ebebeb"/><stop offset="0.375" stop-color="#eaeaea"/><stop offset="0.3812" stop-color="#e9e9e9"/><stop offset="0.3875" stop-color="#e8e8e8"/><stop offset="0.3937" stop-color="#e7e7e7"/><stop offset="0.4" stop-color="#e5e5e5"/><stop offset="0.4062" stop-color="#e4e4e4"/><stop offset="0.4125" stop-color="#e3e3e3"/><stop offset="0.4188" stop-color="#e2e2e2"/><stop offset="0.425" stop-color="#e1e1e1"/><stop offset="0.4313" stop-color="#e0e0e0"/><stop offset="0.4375" stop-color="#e1e1e1"/><stop offset="0.4437" stop-color="#e2e2e2"/><stop offset="0.45" stop-color="#e4e4e4"/><stop offset="0.4562" stop-color="#e6e6e6"/><stop offset="0.4625" stop-color="#e7e7e7"/><stop offset="0.4688" stop-color="#e9e9e9"/><stop offset="0.475" stop-color="#eaeaea"/><stop offset="0.4813" stop-color="#ececec"/><stop offset="0.4875" stop-color="#eeeeee"/><stop offset="0.4938" stop-color="#efefef"/><stop offset="0.5" stop-color="#efefef"/><stop offset="0.5062" stop-color="#f0f0f0"/><stop offset="0.5125" stop-color="#f0f0f0"/><stop offset="0.5188" stop-color="#f0f0f0"/><stop offset="0.525" stop-color="#f1f1f1"/><stop offset="0.5312" stop-color="#f1f1f1"/><stop offset="0.5375" stop-color="#f1f1f1"/><stop offset="0.5437" stop-color="#f1f1f1"/><stop offset="0.55" stop-color="#f1f1f1"/><stop offset="0.5563" stop-color="#f2f2f2"/><stop offset="0.5625" stop-color="#f2f2f2"/><stop offset="0.5687" stop-color="#f2f2f2"/><stop offset="0.575" stop-color="#f2f2f2"/><stop offset="0.5813" stop-color="#f2f2f2"/><stop offset="0.5875" stop-color="#f2f2f2"/><stop offset="0.5938" stop-color="#f2f2f2"/><stop offset="0.6" stop-color="#f2f2f2"/><stop offset="0.6062" stop-color="#f2f2f2"/><stop offset="0.6125" stop-color="#f3f3f3"/><stop offset="0.6188" stop-color="#f3f3f3"/><stop offset="0.625" stop-color="#f3f3f3"/><stop offset="0.6312" stop-color="#f3f3f3"/><stop offset="0.6375" stop-color="#f3f3f3"/><stop offset="0.6438" stop-color="#f3f3f3"/><stop offset="0.65" stop-color="#f3f3f3"/><stop offset="0.6562" stop-color="#f3f3f3"/><stop offset="0.6625" stop-color="#f3f3f3"/><stop offset="0.6687" stop-color="#f3f3f3"/><stop offset="0.675" stop-color="#f3f3f3"/><stop offset="0.6813" stop-color="#f3f3f3"/><stop offset="0.6875" stop-color="#f3f3f3"/><stop offset="0.6937" stop-color="#f3f3f3"/><stop offset="0.7" stop-color="#f3f3f3"/><stop offset="0.7063" stop-color="#f3f3f3"/><stop offset="0.7125" stop-color="#f3f3f3"/><stop offset="0.7188" stop-color="#f3f3f3"/><stop offset="0.725" stop-color="#f4f4f4"/><stop offset="0.7312" stop-color="#f4f4f4"/><stop offset="0.7375" stop-color="#f4f4f4"/><stop offset="0.7438" stop-color="#f4f4f4"/><stop offset="0.75" stop-color="#f4f4f4"/><stop offset="0.7562" stop-color="#f4f4f4"/><stop offset="0.7625" stop-color="#f4f4f4"/><stop offset="0.7688" stop-color="#f3f3f3"/><stop offset="0.775" stop-color="#f3f3f3"/><stop offset="0.7812" stop-color="#f3f3f3"/><stop offset="0.7875" stop-color="#f3f3f3"/><stop offset="0.7937" stop-color="#f3f3f3"/><stop offset="0.8" stop-color="#f3f3f3"/><stop offset="0.8063" stop-color="#f3f3f3"/><stop offset="0.8125" stop-color="#f3f3f3"/><stop offset="0.8187" stop-color="#f3f3f3"/><stop offset="0.825" stop-color="#f3f3f3"/><stop offset="0.8313" stop-color="#f3f3f3"/><stop offset="0.8375" stop-color="#f2f2f2"/><stop offset="0.8438" stop-color="#f2f2f2"/><stop offset="0.85" stop-color="#f2f2f2"/><stop offset="0.8562" stop-color="#f2f2f2"/><stop offset="0.8625" stop-color="#f2f2f2"/><stop offset="0.8688" stop-color="#f2f2f2"/><stop offset="0.875" stop-color="#f2f2f2"/><stop offset="0.8812" stop-color="#f1f1f1"/><stop offset="0.8875" stop-color="#f1f1f1"/><stop offset="0.8938" stop-color="#f1f1f1"/><stop offset="0.9" stop-color="#f0f0f0"/><stop offset="0.9062" stop-color="#f0f0f0"/><stop offset="0.9125" stop-color="#efefef"/><stop offset="0.9187" stop-color="#efefef"/><stop offset="0.925" stop-color="#eeeeee"/><stop offset="0.9313" stop-color="#ededed"/><stop offset="0.9375" stop-color="#ededed"/><stop offset="0.9437" stop-color="#ececec"/><stop offset="0.95" stop-color="#ebebeb"/><stop offset="0.9563" stop-color="#eaeaea"/><stop offset="0.9625" stop-color="#e9e9e9"/><stop offset="0.9688" stop-color="#e8e8e8"/><stop offset="0.975" stop-color="#e6e6e6"/><stop offset="0.9812" stop-color="#e5e5e5"/><stop offset="0.9875" stop-color="#e4e4e4"/><stop offset="0.9938" stop-color="#e2e2e2"/><stop offset="1" stop-color="#e1e1e1"/></linearGradient>
<linearGradient id="c12" gradientUnits="userSpaceOnUse" x1="0" y1="94.0" x2="0" y2="1115.5"><stop offset="0" stop-color="#ffffff"/><stop offset="0.00625" stop-color="#ffffff"/><stop offset="0.0125" stop-color="#ffffff"/><stop offset="0.01875" stop-color="#ffffff"/><stop offset="0.025" stop-color="#ffffff"/><stop offset="0.03125" stop-color="#ffffff"/><stop offset="0.0375" stop-color="#ffffff"/><stop offset="0.04375" stop-color="#ffffff"/><stop offset="0.05" stop-color="#ffffff"/><stop offset="0.05625" stop-color="#ffffff"/><stop offset="0.0625" stop-color="#ffffff"/><stop offset="0.06875" stop-color="#ffffff"/><stop offset="0.075" stop-color="#ffffff"/><stop offset="0.08125" stop-color="#ffffff"/><stop offset="0.0875" stop-color="#ffffff"/><stop offset="0.09375" stop-color="#ffffff"/><stop offset="0.1" stop-color="#ffffff"/><stop offset="0.1062" stop-color="#ffffff"/><stop offset="0.1125" stop-color="#ffffff"/><stop offset="0.1187" stop-color="#ffffff"/><stop offset="0.125" stop-color="#ffffff"/><stop offset="0.1313" stop-color="#ffffff"/><stop offset="0.1375" stop-color="#ffffff"/><stop offset="0.1437" stop-color="#ffffff"/><stop offset="0.15" stop-color="#ffffff"/><stop offset="0.1562" stop-color="#ffffff"/><stop offset="0.1625" stop-color="#ffffff"/><stop offset="0.1688" stop-color="#ffffff"/><stop offset="0.175" stop-color="#ffffff"/><stop offset="0.1812" stop-color="#ffffff"/><stop offset="0.1875" stop-color="#fefefe"/><stop offset="0.1938" stop-color="#fefefe"/><stop offset="0.2" stop-color="#fefefe"/><stop offset="0.2062" stop-color="#fdfdfd"/><stop offset="0.2125" stop-color="#fcfcfc"/><stop offset="0.2188" stop-color="#fcfcfc"/><stop offset="0.225" stop-color="#fbfbfb"/><stop offset="0.2313" stop-color="#fbfbfb"/><stop offset="0.2375" stop-color="#fafafa"/><stop offset="0.2437" stop-color="#fafafa"/><stop offset="0.25" stop-color="#f9f9f9"/><stop offset="0.2562" stop-color="#f8f8f8"/><stop offset="0.2625" stop-color="#f8f8f8"/><stop offset="0.2687" stop-color="#f7f7f7"/><stop offset="0.275" stop-color="#f7f7f7"/><stop offset="0.2812" stop-color="#f7f7f7"/><stop offset="0.2875" stop-color="#f6f6f6"/><stop offset="0.2938" stop-color="#f6f6f6"/><stop offset="0.3" stop-color="#f5f5f5"/><stop offset="0.3063" stop-color="#f4f4f4"/><stop offset="0.3125" stop-color="#f4f4f4"/><stop offset="0.3187" stop-color="#f3f3f3"/><stop offset="0.325" stop-color="#f3f3f3"/><stop offset="0.3312" stop-color="#f2f2f2"/><stop offset="0.3375" stop-color="#f1f1f1"/><stop offset="0.3438" stop-color="#f1f1f1"/><stop offset="0.35" stop-color="#f0f0f0"/><stop offset="0.3563" stop-color="#efefef"/><stop offset="0.3625" stop-color="#eeeeee"/><stop offset="0.3688" stop-color="#ededed"/><stop offset="0.375" stop-color="#ececec"/><stop offset="0.3812" stop-color="#ebebeb"/><stop offset="0.3875" stop-color="#e9e9e9"/><stop offset="0.3937" stop-color="#e8e8e8"/><stop offset="0.4" stop-color="#e7e7e7"/><stop offset="0.4062" stop-color="#e6e6e6"/><stop offset="0.4125" stop-color="#e5e5e5"/><stop offset="0.4188" stop-color="#e3e3e3"/><stop offset="0.425" stop-color="#e2e2e2"/><stop offset="0.4313" stop-color="#e2e2e2"/><stop offset="0.4375" stop-color="#e2e2e2"/><stop offset="0.4437" stop-color="#e3e3e3"/><stop offset="0.45" stop-color="#e5e5e5"/><stop offset="0.4562" stop-color="#e7e7e7"/><stop offset="0.4625" stop-color="#e9e9e9"/><stop offset="0.4688" stop-color="#eaeaea"/><stop offset="0.475" stop-color="#ececec"/><stop offset="0.4813" stop-color="#ededed"/><stop offset="0.4875" stop-color="#efefef"/><stop offset="0.4938" stop-color="#f0f0f0"/><stop offset="0.5" stop-color="#f1f1f1"/><stop offset="0.5062" stop-color="#f1f1f1"/><stop offset="0.5125" stop-color="#f1f1f1"/><stop offset="0.5188" stop-color="#f2f2f2"/><stop offset="0.525" stop-color="#f2f2f2"/><stop offset="0.5312" stop-color="#f2f2f2"/><stop offset="0.5375" stop-color="#f2f2f2"/><stop offset="0.5437" stop-color="#f3f3f3"/><stop offset="0.55" stop-color="#f3f3f3"/><stop offset="0.5563" stop-color="#f3f3f3"/><stop offset="0.5625" stop-color="#f3f3f3"/><stop offset="0.5687" stop-color="#f3f3f3"/><stop offset="0.575" stop-color="#f3f3f3"/><stop offset="0.5813" stop-color="#f3f3f3"/><stop offset="0.5875" stop-color="#f3f3f3"/><stop offset="0.5938" stop-color="#f4f4f4"/><stop offset="0.6" stop-color="#f4f4f4"/><stop offset="0.6062" stop-color="#f4f4f4"/><stop offset="0.6125" stop-color="#f4f4f4"/><stop offset="0.6188" stop-color="#f4f4f4"/><stop offset="0.625" stop-color="#f4f4f4"/><stop offset="0.6312" stop-color="#f4f4f4"/><stop offset="0.6375" stop-color="#f4f4f4"/><stop offset="0.6438" stop-color="#f4f4f4"/><stop offset="0.65" stop-color="#f4f4f4"/><stop offset="0.6562" stop-color="#f4f4f4"/><stop offset="0.6625" stop-color="#f4f4f4"/><stop offset="0.6687" stop-color="#f4f4f4"/><stop offset="0.675" stop-color="#f4f4f4"/><stop offset="0.6813" stop-color="#f4f4f4"/><stop offset="0.6875" stop-color="#f4f4f4"/><stop offset="0.6937" stop-color="#f4f4f4"/><stop offset="0.7" stop-color="#f4f4f4"/><stop offset="0.7063" stop-color="#f4f4f4"/><stop offset="0.7125" stop-color="#f4f4f4"/><stop offset="0.7188" stop-color="#f5f5f5"/><stop offset="0.725" stop-color="#f5f5f5"/><stop offset="0.7312" stop-color="#f5f5f5"/><stop offset="0.7375" stop-color="#f5f5f5"/><stop offset="0.7438" stop-color="#f5f5f5"/><stop offset="0.75" stop-color="#f5f5f5"/><stop offset="0.7562" stop-color="#f5f5f5"/><stop offset="0.7625" stop-color="#f5f5f5"/><stop offset="0.7688" stop-color="#f5f5f5"/><stop offset="0.775" stop-color="#f4f4f4"/><stop offset="0.7812" stop-color="#f4f4f4"/><stop offset="0.7875" stop-color="#f4f4f4"/><stop offset="0.7937" stop-color="#f4f4f4"/><stop offset="0.8" stop-color="#f4f4f4"/><stop offset="0.8063" stop-color="#f4f4f4"/><stop offset="0.8125" stop-color="#f4f4f4"/><stop offset="0.8187" stop-color="#f4f4f4"/><stop offset="0.825" stop-color="#f4f4f4"/><stop offset="0.8313" stop-color="#f4f4f4"/><stop offset="0.8375" stop-color="#f4f4f4"/><stop offset="0.8438" stop-color="#f4f4f4"/><stop offset="0.85" stop-color="#f3f3f3"/><stop offset="0.8562" stop-color="#f3f3f3"/><stop offset="0.8625" stop-color="#f3f3f3"/><stop offset="0.8688" stop-color="#f3f3f3"/><stop offset="0.875" stop-color="#f3f3f3"/><stop offset="0.8812" stop-color="#f3f3f3"/><stop offset="0.8875" stop-color="#f2f2f2"/><stop offset="0.8938" stop-color="#f2f2f2"/><stop offset="0.9" stop-color="#f2f2f2"/><stop offset="0.9062" stop-color="#f1f1f1"/><stop offset="0.9125" stop-color="#f1f1f1"/><stop offset="0.9187" stop-color="#f0f0f0"/><stop offset="0.925" stop-color="#efefef"/><stop offset="0.9313" stop-color="#efefef"/><stop offset="0.9375" stop-color="#eeeeee"/><stop offset="0.9437" stop-color="#ededed"/><stop offset="0.95" stop-color="#ededed"/><stop offset="0.9563" stop-color="#ececec"/><stop offset="0.9625" stop-color="#ebebeb"/><stop offset="0.9688" stop-color="#e9e9e9"/><stop offset="0.975" stop-color="#e8e8e8"/><stop offset="0.9812" stop-color="#e7e7e7"/><stop offset="0.9875" stop-color="#e5e5e5"/><stop offset="0.9938" stop-color="#e4e4e4"/><stop offset="1" stop-color="#e3e3e3"/></linearGradient>
<linearGradient id="c13" gradientUnits="userSpaceOnUse" x1="0" y1="94.0" x2="0" y2="1115.5"><stop offset="0" stop-color="#ffffff"/><stop offset="0.00625" stop-color="#ffffff"/><stop offset="0.0125" stop-color="#ffffff"/><stop offset="0.01875" stop-color="#ffffff"/><stop offset="0.025" stop-color="#ffffff"/><stop offset="0.03125" stop-color="#ffffff"/><stop offset="0.0375" stop-color="#ffffff"/><stop offset="0.04375" stop-color="#ffffff"/><stop offset="0.05" stop-color="#ffffff"/><stop offset="0.05625" stop-color="#ffffff"/><stop offset="0.0625" stop-color="#ffffff"/><stop offset="0.06875" stop-color="#ffffff"/><stop offset="0.075" stop-color="#ffffff"/><stop offset="0.08125" stop-color="#ffffff"/><stop offset="0.0875" stop-color="#ffffff"/><stop offset="0.09375" stop-color="#ffffff"/><stop offset="0.1" stop-color="#ffffff"/><stop offset="0.1062" stop-color="#ffffff"/><stop offset="0.1125" stop-color="#ffffff"/><stop offset="0.1187" stop-color="#ffffff"/><stop offset="0.125" stop-color="#ffffff"/><stop offset="0.1313" stop-color="#ffffff"/><stop offset="0.1375" stop-color="#ffffff"/><stop offset="0.1437" stop-color="#ffffff"/><stop offset="0.15" stop-color="#ffffff"/><stop offset="0.1562" stop-color="#ffffff"/><stop offset="0.1625" stop-color="#ffffff"/><stop offset="0.1688" stop-color="#ffffff"/><stop offset="0.175" stop-color="#ffffff"/><stop offset="0.1812" stop-color="#ffffff"/><stop offset="0.1875" stop-color="#ffffff"/><stop offset="0.1938" stop-color="#fefefe"/><stop offset="0.2" stop-color="#fefefe"/><stop offset="0.2062" stop-color="#fdfdfd"/><stop offset="0.2125" stop-color="#fdfdfd"/><stop offset="0.2188" stop-color="#fcfcfc"/><stop offset="0.225" stop-color="#fcfcfc"/><stop offset="0.2313" stop-color="#fbfbfb"/><stop offset="0.2375" stop-color="#fbfbfb"/><stop offset="0.2437" stop-color="#fafafa"/><stop offset="0.25" stop-color="#fafafa"/><stop offset="0.2562" stop-color="#f9f9f9"/><stop offset="0.2625" stop-color="#f9f9f9"/><stop offset="0.2687" stop-color="#f8f8f8"/><stop offset="0.275" stop-color="#f8f8f8"/><stop offset="0.2812" stop-color="#f7f7f7"/><stop offset="0.2875" stop-color="#f7f7f7"/><stop offset="0.2938" stop-color="#f7f7f7"/><stop offset="0.3" stop-color="#f6f6f6"/><stop offset="0.3063" stop-color="#f6f6f6"/><stop offset="0.3125" stop-color="#f5f5f5"/><stop offset="0.3187" stop-color="#f5f5f5"/><stop offset="0.325" stop-color="#f4f4f4"/><stop offset="0.3312" stop-color="#f3f3f3"/><stop offset="0.3375" stop-color="#f3f3f3"/><stop offset="0.3438" stop-color="#f2f2f2"/><stop offset="0.35" stop-color="#f1f1f1"/><stop offset="0.3563" stop-color="#f0f0f0"/><stop offset="0.3625" stop-color="#f0f0f0"/><stop offset="0.3688" stop-color="#eeeeee"/><stop offset="0.375" stop-color="#ededed"/><stop offset="0.3812" stop-color="#ececec"/><stop offset="0.3875" stop-color="#ebebeb"/><stop offset="0.3937" stop-color="#eaeaea"/><stop offset="0.4" stop-color="#e9e9e9"/><stop offset="0.4062" stop-color="#e8e8e8"/><stop offset="0.4125" stop-color="#e6e6e6"/><stop offset="0.4188" stop-color="#e5e5e5"/><stop offset="0.425" stop-color="#e4e4e4"/><stop offset="0.4313" stop-color="#e3e3e3"/><stop offset="0.4375" stop-color="#e4e4e4"/><stop offset="0.4437" stop-color="#e5e5e5"/><stop offset="0.45" stop-color="#e6e6e6"/><stop offset="0.4562" stop-color="#e8e8e8"/><stop offset="0.4625" stop-color="#eaeaea"/><stop offset="0.4688" stop-color="#ebebeb"/><stop offset="0.475" stop-color="#ededed"/><stop offset="0.4813" stop-color="#efefef"/><stop offset="0.4875" stop-color="#f0f0f0"/><stop offset="0.4938" stop-color="#f1f1f1"/><stop offset="0.5" stop-color="#f2f2f2"/><stop offset="0.5062" stop-color="#f2f2f2"/><stop offset="0.5125" stop-color="#f3f3f3"/><stop offset="0.5188" stop-color="#f3f3f3"/><stop offset="0.525" stop-color="#f3f3f3"/><stop offset="0.5312" stop-color="#f3f3f3"/><stop offset="0.5375" stop-color="#f4f4f4"/><stop offset="0.5437" stop-color="#f4f4f4"/><stop offset="0.55" stop-color="#f4f4f4"/><stop offset="0.5563" stop-color="#f4f4f4"/><stop offset="0.5625" stop-color="#f4f4f4"/><stop offset="0.5687" stop-color="#f4f4f4"/><stop offset="0.575" stop-color="#f5f5f5"/><stop offset="0.5813" stop-color="#f5f5f5"/><stop offset="0.5875" stop-color="#f5f5f5"/><stop offset="0.5938" stop-color="#f5f5f5"/><stop offset="0.6" stop-color="#f5f5f5"/><stop offset="0.6062" stop-color="#f5f5f5"/><stop offset="0.6125" stop-color="#f5f5f5"/><stop offset="0.6188" stop-color="#f5f5f5"/><stop offset="0.625" stop-color="#f5f5f5"/><stop offset="0.6312" stop-color="#f5f5f5"/><stop offset="0.6375" stop-color="#f5f5f5"/><stop offset="0.6438" stop-color="#f5f5f5"/><stop offset="0.65" stop-color="#f5f5f5"/><stop offset="0.6562" stop-color="#f5f5f5"/><stop offset="0.6625" stop-color="#f5f5f5"/><stop offset="0.6687" stop-color="#f5f5f5"/><stop offset="0.675" stop-color="#f5f5f5"/><stop offset="0.6813" stop-color="#f5f5f5"/><stop offset="0.6875" stop-color="#f5f5f5"/><stop offset="0.6937" stop-color="#f5f5f5"/><stop offset="0.7" stop-color="#f5f5f5"/><stop offset="0.7063" stop-color="#f6f6f6"/><stop offset="0.7125" stop-color="#f6f6f6"/><stop offset="0.7188" stop-color="#f6f6f6"/><stop offset="0.725" stop-color="#f6f6f6"/><stop offset="0.7312" stop-color="#f6f6f6"/><stop offset="0.7375" stop-color="#f6f6f6"/><stop offset="0.7438" stop-color="#f6f6f6"/><stop offset="0.75" stop-color="#f6f6f6"/><stop offset="0.7562" stop-color="#f6f6f6"/><stop offset="0.7625" stop-color="#f6f6f6"/><stop offset="0.7688" stop-color="#f6f6f6"/><stop offset="0.775" stop-color="#f6f6f6"/><stop offset="0.7812" stop-color="#f5f5f5"/><stop offset="0.7875" stop-color="#f5f5f5"/><stop offset="0.7937" stop-color="#f5f5f5"/><stop offset="0.8" stop-color="#f5f5f5"/><stop offset="0.8063" stop-color="#f5f5f5"/><stop offset="0.8125" stop-color="#f5f5f5"/><stop offset="0.8187" stop-color="#f5f5f5"/><stop offset="0.825" stop-color="#f5f5f5"/><stop offset="0.8313" stop-color="#f5f5f5"/><stop offset="0.8375" stop-color="#f5f5f5"/><stop offset="0.8438" stop-color="#f5f5f5"/><stop offset="0.85" stop-color="#f5f5f5"/><stop offset="0.8562" stop-color="#f4f4f4"/><stop offset="0.8625" stop-color="#f4f4f4"/><stop offset="0.8688" stop-color="#f4f4f4"/><stop offset="0.875" stop-color="#f4f4f4"/><stop offset="0.8812" stop-color="#f4f4f4"/><stop offset="0.8875" stop-color="#f4f4f4"/><stop offset="0.8938" stop-color="#f3f3f3"/><stop offset="0.9" stop-color="#f3f3f3"/><stop offset="0.9062" stop-color="#f2f2f2"/><stop offset="0.9125" stop-color="#f2f2f2"/><stop offset="0.9187" stop-color="#f1f1f1"/><stop offset="0.925" stop-color="#f1f1f1"/><stop offset="0.9313" stop-color="#f0f0f0"/><stop offset="0.9375" stop-color="#f0f0f0"/><stop offset="0.9437" stop-color="#efefef"/><stop offset="0.95" stop-color="#eeeeee"/><stop offset="0.9563" stop-color="#ededed"/><stop offset="0.9625" stop-color="#ececec"/><stop offset="0.9688" stop-color="#ebebeb"/><stop offset="0.975" stop-color="#eaeaea"/><stop offset="0.9812" stop-color="#e9e9e9"/><stop offset="0.9875" stop-color="#e7e7e7"/><stop offset="0.9938" stop-color="#e6e6e6"/><stop offset="1" stop-color="#e4e4e4"/></linearGradient>
<linearGradient id="c14" gradientUnits="userSpaceOnUse" x1="0" y1="94.0" x2="0" y2="1115.5"><stop offset="0" stop-color="#ffffff"/><stop offset="0.00625" stop-color="#ffffff"/><stop offset="0.0125" stop-color="#ffffff"/><stop offset="0.01875" stop-color="#ffffff"/><stop offset="0.025" stop-color="#ffffff"/><stop offset="0.03125" stop-color="#ffffff"/><stop offset="0.0375" stop-color="#ffffff"/><stop offset="0.04375" stop-color="#ffffff"/><stop offset="0.05" stop-color="#ffffff"/><stop offset="0.05625" stop-color="#ffffff"/><stop offset="0.0625" stop-color="#ffffff"/><stop offset="0.06875" stop-color="#ffffff"/><stop offset="0.075" stop-color="#ffffff"/><stop offset="0.08125" stop-color="#ffffff"/><stop offset="0.0875" stop-color="#ffffff"/><stop offset="0.09375" stop-color="#ffffff"/><stop offset="0.1" stop-color="#ffffff"/><stop offset="0.1062" stop-color="#ffffff"/><stop offset="0.1125" stop-color="#ffffff"/><stop offset="0.1187" stop-color="#ffffff"/><stop offset="0.125" stop-color="#ffffff"/><stop offset="0.1313" stop-color="#ffffff"/><stop offset="0.1375" stop-color="#ffffff"/><stop offset="0.1437" stop-color="#ffffff"/><stop offset="0.15" stop-color="#ffffff"/><stop offset="0.1562" stop-color="#ffffff"/><stop offset="0.1625" stop-color="#ffffff"/><stop offset="0.1688" stop-color="#ffffff"/><stop offset="0.175" stop-color="#ffffff"/><stop offset="0.1812" stop-color="#ffffff"/><stop offset="0.1875" stop-color="#ffffff"/><stop offset="0.1938" stop-color="#fefefe"/><stop offset="0.2" stop-color="#fefefe"/><stop offset="0.2062" stop-color="#fefefe"/><stop offset="0.2125" stop-color="#fdfdfd"/><stop offset="0.2188" stop-color="#fdfdfd"/><stop offset="0.225" stop-color="#fcfcfc"/><stop offset="0.2313" stop-color="#fcfcfc"/><stop offset="0.2375" stop-color="#fbfbfb"/><stop offset="0.2437" stop-color="#fbfbfb"/><stop offset="0.25" stop-color="#fafafa"/><stop offset="0.2562" stop-color="#fafafa"/><stop offset="0.2625" stop-color="#fafafa"/><stop offset="0.2687" stop-color="#f9f9f9"/><stop offset="0.275" stop-color="#f9f9f9"/><stop offset="0.2812" stop-color="#f8f8f8"/><stop offset="0.2875" stop-color="#f8f8f8"/><stop offset="0.2938" stop-color="#f7f7f7"/><stop offset="0.3" stop-color="#f7f7f7"/><stop offset="0.3063" stop-color="#f7f7f7"/><stop offset="0.3125" stop-color="#f6f6f6"/><stop offset="0.3187" stop-color="#f6f6f6"/><stop offset="0.325" stop-color="#f5f5f5"/><stop offset="0.3312" stop-color="#f5f5f5"/><stop offset="0.3375" stop-color="#f4f4f4"/><stop offset="0.3438" stop-color="#f3f3f3"/><stop offset="0.35" stop-color="#f3f3f3"/><stop offset="0.3563" stop-color="#f2f2f2"/><stop offset="0.3625" stop-color="#f1f1f1"/><stop offset="0.3688" stop-color="#f0f0f0"/><stop offset="0.375" stop-color="#efefef"/><stop offset="0.3812" stop-color="#eeeeee"/><stop offset="0.3875" stop-color="#ededed"/><stop offset="0.3937" stop-color="#ececec"/><stop offset="0.4" stop-color="#ebebeb"/><stop offset="0.4062" stop-color="#e9e9e9"/><stop offset="0.4125" stop-color="#e8e8e8"/><stop offset="0.4188" stop-color="#e6e6e6"/><stop offset="0.425" stop-color="#e5e5e5"/><stop offset="0.4313" stop-color="#e5e5e5"/><stop offset="0.4375" stop-color="#e5e5e5"/><stop offset="0.4437" stop-color="#e6e6e6"/><stop offset="0.45" stop-color="#e8e8e8"/><stop offset="0.4562" stop-color="#e9e9e9"/><stop offset="0.4625" stop-color="#ebebeb"/><stop offset="0.4688" stop-color="#ededed"/><stop offset="0.475" stop-color="#eeeeee"/><stop offset="0.4813" stop-color="#f0f0f0"/><stop offset="0.4875" stop-color="#f2f2f2"/><stop offset="0.4938" stop-color="#f3f3f3"/><stop offset="0.5" stop-color="#f3f3f3"/><stop offset="0.5062" stop-color="#f4f4f4"/><stop offset="0.5125" stop-color="#f4f4f4"/><stop offset="0.5188" stop-color="#f4f4f4"/><stop offset="0.525" stop-color="#f5f5f5"/><stop offset="0.5312" stop-color="#f5f5f5"/><stop offset="0.5375" stop-color="#f5f5f5"/><stop offset="0.5437" stop-color="#f5f5f5"/><stop offset="0.55" stop-color="#f5f5f5"/><stop offset="0.5563" stop-color="#f6f6f6"/><stop offset="0.5625" stop-color="#f6f6f6"/><stop offset="0.5687" stop-color="#f6f6f6"/><stop offset="0.575" stop-color="#f6f6f6"/><stop offset="0.5813" stop-color="#f6f6f6"/><stop offset="0.5875" stop-color="#f6f6f6"/><stop offset="0.5938" stop-color="#f6f6f6"/><stop offset="0.6" stop-color="#f6f6f6"/><stop offset="0.6062" stop-color="#f6f6f6"/><stop offset="0.6125" stop-color="#f6f6f6"/><stop offset="0.6188" stop-color="#f6f6f6"/><stop offset="0.625" stop-color="#f6f6f6"/><stop offset="0.6312" stop-color="#f6f6f6"/><stop offset="0.6375" stop-color="#f6f6f6"/><stop offset="0.6438" stop-color="#f6f6f6"/><stop offset="0.65" stop-color="#f6f6f6"/><stop offset="0.6562" stop-color="#f6f6f6"/><stop offset="0.6625" stop-color="#f6f6f6"/><stop offset="0.6687" stop-color="#f7f7f7"/><stop offset="0.675" stop-color="#f7f7f7"/><stop offset="0.6813" stop-color="#f7f7f7"/><stop offset="0.6875" stop-color="#f7f7f7"/><stop offset="0.6937" stop-color="#f7f7f7"/><stop offset="0.7" stop-color="#f7f7f7"/><stop offset="0.7063" stop-color="#f7f7f7"/><stop offset="0.7125" stop-color="#f7f7f7"/><stop offset="0.7188" stop-color="#f7f7f7"/><stop offset="0.725" stop-color="#f7f7f7"/><stop offset="0.7312" stop-color="#f7f7f7"/><stop offset="0.7375" stop-color="#f7f7f7"/><stop offset="0.7438" stop-color="#f7f7f7"/><stop offset="0.75" stop-color="#f7f7f7"/><stop offset="0.7562" stop-color="#f7f7f7"/><stop offset="0.7625" stop-color="#f7f7f7"/><stop offset="0.7688" stop-color="#f7f7f7"/><stop offset="0.775" stop-color="#f7f7f7"/><stop offset="0.7812" stop-color="#f7f7f7"/><stop offset="0.7875" stop-color="#f6f6f6"/><stop offset="0.7937" stop-color="#f6f6f6"/><stop offset="0.8" stop-color="#f6f6f6"/><stop offset="0.8063" stop-color="#f6f6f6"/><stop offset="0.8125" stop-color="#f6f6f6"/><stop offset="0.8187" stop-color="#f6f6f6"/><stop offset="0.825" stop-color="#f6f6f6"/><stop offset="0.8313" stop-color="#f6f6f6"/><stop offset="0.8375" stop-color="#f6f6f6"/><stop offset="0.8438" stop-color="#f6f6f6"/><stop offset="0.85" stop-color="#f6f6f6"/><stop offset="0.8562" stop-color="#f6f6f6"/><stop offset="0.8625" stop-color="#f5f5f5"/><stop offset="0.8688" stop-color="#f5f5f5"/><stop offset="0.875" stop-color="#f5f5f5"/><stop offset="0.8812" stop-color="#f5f5f5"/><stop offset="0.8875" stop-color="#f5f5f5"/><stop offset="0.8938" stop-color="#f5f5f5"/><stop offset="0.9" stop-color="#f4f4f4"/><stop offset="0.9062" stop-color="#f4f4f4"/><stop offset="0.9125" stop-color="#f3f3f3"/><stop offset="0.9187" stop-color="#f3f3f3"/><stop offset="0.925" stop-color="#f2f2f2"/><stop offset="0.9313" stop-color="#f2f2f2"/><stop offset="0.9375" stop-color="#f1f1f1"/><stop offset="0.9437" stop-color="#f0f0f0"/><stop offset="0.95" stop-color="#f0f0f0"/><stop offset="0.9563" stop-color="#efefef"/><stop offset="0.9625" stop-color="#eeeeee"/><stop offset="0.9688" stop-color="#ededed"/><stop offset="0.975" stop-color="#ececec"/><stop offset="0.9812" stop-color="#eaeaea"/><stop offset="0.9875" stop-color="#e9e9e9"/><stop offset="0.9938" stop-color="#e8e8e8"/><stop offset="1" stop-color="#e6e6e6"/></linearGradient>
<linearGradient id="c15" gradientUnits="userSpaceOnUse" x1="0" y1="94.0" x2="0" y2="1115.5"><stop offset="0" stop-color="#ffffff"/><stop offset="0.00625" stop-color="#ffffff"/><stop offset="0.0125" stop-color="#ffffff"/><stop offset="0.01875" stop-color="#ffffff"/><stop offset="0.025" stop-color="#ffffff"/><stop offset="0.03125" stop-color="#ffffff"/><stop offset="0.0375" stop-color="#ffffff"/><stop offset="0.04375" stop-color="#ffffff"/><stop offset="0.05" stop-color="#ffffff"/><stop offset="0.05625" stop-color="#ffffff"/><stop offset="0.0625" stop-color="#ffffff"/><stop offset="0.06875" stop-color="#ffffff"/><stop offset="0.075" stop-color="#ffffff"/><stop offset="0.08125" stop-color="#ffffff"/><stop offset="0.0875" stop-color="#ffffff"/><stop offset="0.09375" stop-color="#ffffff"/><stop offset="0.1" stop-color="#ffffff"/><stop offset="0.1062" stop-color="#ffffff"/><stop offset="0.1125" stop-color="#ffffff"/><stop offset="0.1187" stop-color="#ffffff"/><stop offset="0.125" stop-color="#ffffff"/><stop offset="0.1313" stop-color="#ffffff"/><stop offset="0.1375" stop-color="#ffffff"/><stop offset="0.1437" stop-color="#ffffff"/><stop offset="0.15" stop-color="#ffffff"/><stop offset="0.1562" stop-color="#ffffff"/><stop offset="0.1625" stop-color="#ffffff"/><stop offset="0.1688" stop-color="#ffffff"/><stop offset="0.175" stop-color="#ffffff"/><stop offset="0.1812" stop-color="#ffffff"/><stop offset="0.1875" stop-color="#ffffff"/><stop offset="0.1938" stop-color="#ffffff"/><stop offset="0.2" stop-color="#fefefe"/><stop offset="0.2062" stop-color="#fefefe"/><stop offset="0.2125" stop-color="#fefefe"/><stop offset="0.2188" stop-color="#fdfdfd"/><stop offset="0.225" stop-color="#fdfdfd"/><stop offset="0.2313" stop-color="#fcfcfc"/><stop offset="0.2375" stop-color="#fcfcfc"/><stop offset="0.2437" stop-color="#fbfbfb"/><stop offset="0.25" stop-color="#fbfbfb"/><stop offset="0.2562" stop-color="#fbfbfb"/><stop offset="0.2625" stop-color="#fafafa"/><stop offset="0.2687" stop-color="#fafafa"/><stop offset="0.275" stop-color="#fafafa"/><stop offset="0.2812" stop-color="#f9f9f9"/><stop offset="0.2875" stop-color="#f9f9f9"/><stop offset="0.2938" stop-color="#f8f8f8"/><stop offset="0.3" stop-color="#f8f8f8"/><stop offset="0.3063" stop-color="#f8f8f8"/><stop offset="0.3125" stop-color="#f7f7f7"/><stop offset="0.3187" stop-color="#f7f7f7"/><stop offset="0.325" stop-color="#f6f6f6"/><stop offset="0.3312" stop-color="#f6f6f6"/><stop offset="0.3375" stop-color="#f5f5f5"/><stop offset="0.3438" stop-color="#f5f5f5"/><stop offset="0.35" stop-color="#f4f4f4"/><stop offset="0.3563" stop-color="#f3f3f3"/><stop offset="0.3625" stop-color="#f3f3f3"/><stop offset="0.3688" stop-color="#f2f2f2"/><stop offset="0.375" stop-color="#f1f1f1"/><stop offset="0.3812" stop-color="#f0f0f0"/><stop offset="0.3875" stop-color="#efefef"/><stop offset="0.3937" stop-color="#ededed"/><stop offset="0.4" stop-color="#ececec"/><stop offset="0.4062" stop-color="#ebebeb"/><stop offset="0.4125" stop-color="#eaeaea"/><stop offset="0.4188" stop-color="#e8e8e8"/><stop offset="0.425" stop-color="#e7e7e7"/><stop offset="0.4313" stop-color="#e6e6e6"/><stop offset="0.4375" stop-color="#e6e6e6"/><stop offset="0.4437" stop-color="#e8e8e8"/><stop offset="0.45" stop-color="#e9e9e9"/><stop offset="0.4562" stop-color="#ebebeb"/><stop offset="0.4625" stop-color="#ececec"/><stop offset="0.4688" stop-color="#eeeeee"/><stop offset="0.475" stop-color="#f0f0f0"/><stop offset="0.4813" stop-color="#f1f1f1"/><stop offset="0.4875" stop-color="#f3f3f3"/><stop offset="0.4938" stop-color="#f4f4f4"/><stop offset="0.5" stop-color="#f5f5f5"/><stop offset="0.5062" stop-color="#f5f5f5"/><stop offset="0.5125" stop-color="#f5f5f5"/><stop offset="0.5188" stop-color="#f6f6f6"/><stop offset="0.525" stop-color="#f6f6f6"/><stop offset="0.5312" stop-color="#f6f6f6"/><stop offset="0.5375" stop-color="#f6f6f6"/><stop offset="0.5437" stop-color="#f7f7f7"/><stop offset="0.55" stop-color="#f7f7f7"/><stop offset="0.5563" stop-color="#f7f7f7"/><stop offset="0.5625" stop-color="#f7f7f7"/><stop offset="0.5687" stop-color="#f7f7f7"/><stop offset="0.575" stop-color="#f7f7f7"/><stop offset="0.5813" stop-color="#f7f7f7"/><stop offset="0.5875" stop-color="#f7f7f7"/><stop offset="0.5938" stop-color="#f7f7f7"/><stop offset="0.6" stop-color="#f8f8f8"/><stop offset="0.6062" stop-color="#f8f8f8"/><stop offset="0.6125" stop-color="#f8f8f8"/><stop offset="0.6188" stop-color="#f8f8f8"/><stop offset="0.625" stop-color="#f8f8f8"/><stop offset="0.6312" stop-color="#f8f8f8"/><stop offset="0.6375" stop-color="#f8f8f8"/><stop offset="0.6438" stop-color="#f8f8f8"/><stop offset="0.65" stop-color="#f8f8f8"/><stop offset="0.6562" stop-color="#f8f8f8"/><stop offset="0.6625" stop-color="#f8f8f8"/><stop offset="0.6687" stop-color="#f8f8f8"/><stop offset="0.675" stop-color="#f8f8f8"/><stop offset="0.6813" stop-color="#f8f8f8"/><stop offset="0.6875" stop-color="#f8f8f8"/><stop offset="0.6937" stop-color="#f8f8f8"/><stop offset="0.7" stop-color="#f8f8f8"/><stop offset="0.7063" stop-color="#f8f8f8"/><stop offset="0.7125" stop-color="#f8f8f8"/><stop offset="0.7188" stop-color="#f8f8f8"/><stop offset="0.725" stop-color="#f8f8f8"/><stop offset="0.7312" stop-color="#f8f8f8"/><stop offset="0.7375" stop-color="#f8f8f8"/><stop offset="0.7438" stop-color="#f8f8f8"/><stop offset="0.75" stop-color="#f8f8f8"/><stop offset="0.7562" stop-color="#f8f8f8"/><stop offset="0.7625" stop-color="#f8f8f8"/><stop offset="0.7688" stop-color="#f8f8f8"/><stop offset="0.775" stop-color="#f8f8f8"/><stop offset="0.7812" stop-color="#f8f8f8"/><stop offset="0.7875" stop-color="#f8f8f8"/><stop offset="0.7937" stop-color="#f7f7f7"/><stop offset="0.8" stop-color="#f7f7f7"/><stop offset="0.8063" stop-color="#f7f7f7"/><stop offset="0.8125" stop-color="#f7f7f7"/><stop offset="0.8187" stop-color="#f7f7f7"/><stop offset="0.825" stop-color="#f7f7f7"/><stop offset="0.8313" stop-color="#f7f7f7"/><stop offset="0.8375" stop-color="#f7f7f7"/><stop offset="0.8438" stop-color="#f7f7f7"/><stop offset="0.85" stop-color="#f7f7f7"/><stop offset="0.8562" stop-color="#f7f7f7"/><stop offset="0.8625" stop-color="#f7f7f7"/><stop offset="0.8688" stop-color="#f7f7f7"/><stop offset="0.875" stop-color="#f6f6f6"/><stop offset="0.8812" stop-color="#f6f6f6"/><stop offset="0.8875" stop-color="#f6f6f6"/><stop offset="0.8938" stop-color="#f6f6f6"/><stop offset="0.9" stop-color="#f5f5f5"/><stop offset="0.9062" stop-color="#f5f5f5"/><stop offset="0.9125" stop-color="#f5f5f5"/><stop offset="0.9187" stop-color="#f4f4f4"/><stop offset="0.925" stop-color="#f4f4f4"/><stop offset="0.9313" stop-color="#f3f3f3"/><stop offset="0.9375" stop-color="#f3f3f3"/><stop offset="0.9437" stop-color="#f2f2f2"/><stop offset="0.95" stop-color="#f1f1f1"/><stop offset="0.9563" stop-color="#f0f0f0"/><stop offset="0.9625" stop-color="#efefef"/><stop offset="0.9688" stop-color="#eeeeee"/><stop offset="0.975" stop-color="#ededed"/><stop offset="0.9812" stop-color="#ececec"/><stop offset="0.9875" stop-color="#ebebeb"/><stop offset="0.9938" stop-color="#eaeaea"/><stop offset="1" stop-color="#e8e8e8"/></linearGradient>
<linearGradient id="hg" x1="0" y1="0" x2="1" y2="0"><stop offset="0" stop-color="#fff" stop-opacity="0"/><stop offset="1" stop-color="#fff" stop-opacity="1"/></linearGradient>
<mask id="hm" maskContentUnits="objectBoundingBox"><rect x="0" y="0" width="1" height="1" fill="url(#hg)"/></mask>
<filter id="cm" filterUnits="userSpaceOnUse" x="215" y="77" width="1099" height="1055" color-interpolation-filters="sRGB"><feGaussianBlur stdDeviation="3"/><feComponentTransfer><feFuncR type="table" tableValues="0 0 0 1 1"/><feFuncG type="table" tableValues="0 1 1 1 0"/><feFuncB type="table" tableValues="1 1 0 0 0"/></feComponentTransfer></filter>
<clipPath id="cp"><rect x="232.0" y="94.0" width="1065.5" height="1021.5"/></clipPath>
<linearGradient id="cb" x1="0" y1="0" x2="0" y2="1"><stop offset="0" stop-color="#f00"/><stop offset="0.25" stop-color="#ff0"/><stop offset="0.5" stop-color="#0f0"/><stop offset="0.75" stop-color="#0ff"/><stop offset="1" stop-color="#00f"/></linearGradient>
<filter id="b2" x="-5%" y="-5%" width="110%" height="110%"><feGaussianBlur stdDeviation="2.5"/></filter>
</defs>
<g clip-path="url(#cp)">
<g filter="url(#cm)">
<rect x="220.00" y="82.0" width="16.00" height="1045.5" fill="url(#c0)"/>
<rect x="1293.50" y="82.0" width="16.00" height="1045.5" fill="url(#c15)"/>
<rect x="301.03" y="82.0" width="4" height="1045.5" fill="url(#c1)"/>
<rect x="372.07" y="82.0" width="4" height="1045.5" fill="url(#c2)"/>
<rect x="443.10" y="82.0" width="4" height="1045.5" fill="url(#c3)"/>
<rect x="514.13" y="82.0" width="4" height="1045.5" fill="url(#c4)"/>
<rect x="585.17" y="82.0" width="4" height="1045.5" fill="url(#c5)"/>
<rect x="656.20" y="82.0" width="4" height="1045.5" fill="url(#c6)"/>
<rect x="727.23" y="82.0" width="4" height="1045.5" fill="url(#c7)"/>
<rect x="798.27" y="82.0" width="4" height="1045.5" fill="url(#c8)"/>
<rect x="869.30" y="82.0" width="4" height="1045.5" fill="url(#c9)"/>
<rect x="940.33" y="82.0" width="4" height="1045.5" fill="url(#c10)"/>
<rect x="1011.37" y="82.0" width="4" height="1045.5" fill="url(#c11)"/>
<rect x="1082.40" y="82.0" width="4" height="1045.5" fill="url(#c12)"/>
<rect x="1153.43" y="82.0" width="4" height="1045.5" fill="url(#c13)"/>
<rect x="1224.47" y="82.0" width="4" height="1045.5" fill="url(#c14)"/>
<rect x="232.00" y="82.0" width="71.03" height="1045.5" fill="url(#c0)"/><rect x="232.00" y="82.0" width="71.03" height="1045.5" fill="url(#c1)" mask="url(#hm)"/>
<rect x="303.03" y="82.0" width="71.03" height="1045.5" fill="url(#c1)"/><rect x="303.03" y="82.0" width="71.03" height="1045.5" fill="url(#c2)" mask="url(#hm)"/>
<rect x="374.07" y="82.0" width="71.03" height="1045.5" fill="url(#c2)"/><rect x="374.07" y="82.0" width="71.03" height="1045.5" fill="url(#c3)" mask="url(#hm)"/>
<rect x="445.10" y="82.0" width="71.03" height="1045.5" fill="url(#c3)"/><rect x="445.10" y="82.0" width="71.03" height="1045.5" fill="url(#c4)" mask="url(#hm)"/>
<rect x="516.13" y="82.0" width="71.03" height="1045.5" fill="url(#c4)"/><rect x="516.13" y="82.0" width="71.03" height="1045.5" fill="url(#c5)" mask="url(#hm)"/>
<rect x="587.17" y="82.0" width="71.03" height="1045.5" fill="url(#c5)"/><rect x="587.17" y="82.0" width="71.03" height="1045.5" fill="url(#c6)" mask="url(#hm)"/>
<rect x="658.20" y="82.0" width="71.03" height="1045.5" fill="url(#c6)"/><rect x="658.20" y="82.0" width="71.03" height="1045.5" fill="url(#c7)" mask="url(#hm)"/>
<rect x="729.23" y="82.0" width="71.03" height="1045.5" fill="url(#c7)"/><rect x="729.23" y="82.0" width="71.03" height="1045.5" fill="url(#c8)" mask="url(#hm)"/>
<rect x="800.27" y="82.0" width="71.03" height="1045.5" fill="url(#c8)"/><rect x="800.27" y="82.0" width="71.03" height="1045.5" fill="url(#c9)" mask="url(#hm)"/>
<rect x="871.30" y="82.0" width="71.03" height="1045.5" fill="url(#c9)"/><rect x="871.30" y="82.0" width="71.03" height="1045.5" fill="url(#c10)" mask="url(#hm)"/>
<rect x="942.33" y="82.0" width="71.03" height="1045.5" fill="url(#c10)"/><rect x="942.33" y="82.0" width="71.03" height="1045.5" fill="url(#c11)" mask="url(#hm)"/>
<rect x="1013.37" y="82.0" width="71.03" height="1045.5" fill="url(#c11)"/><rect x="1013.37" y="82.0" width="71.03" height="1045.5" fill="url(#c12)" mask="url(#hm)"/>
<rect x="1084.40" y="82.0" width="71.03" height="1045.5" fill="url(#c12)"/><rect x="1084.40" y="82.0" width="71.03" height="1045.5" fill="url(#c13)" mask="url(#hm)"/>
<rect x="1155.43" y="82.0" width="71.03" height="1045.5" fill="url(#c13)"/><rect x="1155.43" y="82.0" width="71.03" height="1045.5" fill="url(#c14)" mask="url(#hm)"/>
<rect x="1226.47" y="82.0" width="71.03" height="1045.5" fill="url(#c14)"/><rect x="1226.47" y="82.0" width="71.03" height="1045.5" fill="url(#c15)" mask="url(#hm)"/>
</g>
<path d="M647.5 74.0 L647.5 94.0 L651.1 113.2 L658.2 148.3 L678.1 184.0 L697.3 202.5 L716.4 220.4 L748.4 238.3 L800.3 249.1 L871.3 258.1 L1004.8 276.6 L1155.4 280.4 L1297.5 281.1 L1317.5 281.1 L1317.5 74.0 Z" fill="#ee0000" filter="url(#b2)"/>
</g>
<!-- frame -->
<rect x="232" y="94" width="1065.5" height="1021.5" fill="none" stroke="#000" stroke-width="2.6"/>
<line x1="944.5" y1="92.7" x2="944.5" y2="1100.2" stroke="#fff" stroke-width="17.5" stroke-dasharray="48 17" stroke-dashoffset="15.7"/>
<g stroke="#000" stroke-width="2.6" fill="none">
<line x1="212" y1="1115.5" x2="232" y2="1115.5"/><line x1="212" y1="987.8" x2="232" y2="987.8"/><line x1="212" y1="860.1" x2="232" y2="860.1"/><line x1="212" y1="732.4" x2="232" y2="732.4"/><line x1="212" y1="604.8" x2="232" y2="604.8"/><line x1="212" y1="477.1" x2="232" y2="477.1"/><line x1="212" y1="349.4" x2="232" y2="349.4"/><line x1="212" y1="221.7" x2="232" y2="221.7"/><line x1="212" y1="94.0" x2="232" y2="94.0"/><line x1="222.5" y1="1051.7" x2="232" y2="1051.7"/><line x1="222.5" y1="924.0" x2="232" y2="924.0"/><line x1="222.5" y1="796.3" x2="232" y2="796.3"/><line x1="222.5" y1="668.6" x2="232" y2="668.6"/><line x1="222.5" y1="540.9" x2="232" y2="540.9"/><line x1="222.5" y1="413.2" x2="232" y2="413.2"/><line x1="222.5" y1="285.5" x2="232" y2="285.5"/><line x1="222.5" y1="157.8" x2="232" y2="157.8"/>
<line x1="232.0" y1="1115.5" x2="232.0" y2="1135"/><line x1="587.2" y1="1115.5" x2="587.2" y2="1135"/><line x1="942.3" y1="1115.5" x2="942.3" y2="1135"/><line x1="1297.5" y1="1115.5" x2="1297.5" y2="1135"/><line x1="409.6" y1="1115.5" x2="409.6" y2="1125.5"/><line x1="764.8" y1="1115.5" x2="764.8" y2="1125.5"/><line x1="1119.9" y1="1115.5" x2="1119.9" y2="1125.5"/>
</g>
<g font-size="69" text-anchor="end">
<text x="199.5" y="1136.5">0.2</text><text x="199.5" y="1008.8">0.4</text><text x="199.5" y="881.1">0.6</text><text x="199.5" y="753.4">0.8</text><text x="199.5" y="625.8">1.0</text><text x="199.5" y="498.1">1.2</text><text x="199.5" y="370.4">1.4</text><text x="199.5" y="242.7">1.6</text><text x="199.5" y="115.0">1.8</text>
</g>
<g font-size="69" text-anchor="middle">
<text x="232.8" y="1203.5">0.0</text><text x="588.0" y="1203.5">0.5</text><text x="943.1" y="1203.5">1.0</text><text x="1298.3" y="1203.5">1.5</text>
</g>
<text x="765.5" y="1328" font-size="87" text-anchor="middle">Fermi Energy (eV)</text>
<text transform="translate(80 604) rotate(-90)" font-size="87" text-anchor="middle">Frequency (THz)</text>
<rect x="1468.5" y="94.5" width="88" height="1021.5" fill="url(#cb)" stroke="#333" stroke-width="1.2"/>
<g stroke="#444" stroke-width="2">
<line x1="1557" y1="1113.0" x2="1575" y2="1113.0"/><line x1="1557" y1="1000.0" x2="1575" y2="1000.0"/><line x1="1557" y1="887.1" x2="1575" y2="887.1"/><line x1="1557" y1="774.1" x2="1575" y2="774.1"/><line x1="1557" y1="661.2" x2="1575" y2="661.2"/><line x1="1557" y1="548.2" x2="1575" y2="548.2"/><line x1="1557" y1="435.3" x2="1575" y2="435.3"/><line x1="1557" y1="322.4" x2="1575" y2="322.4"/><line x1="1557" y1="209.4" x2="1575" y2="209.4"/><line x1="1557" y1="96.4" x2="1575" y2="96.4"/>
</g>
<g font-size="57">
<text x="1597" y="1133.5">0</text><text x="1597" y="1020.5">5</text><text x="1597" y="907.6">10</text><text x="1597" y="794.6">15</text><text x="1597" y="681.7">20</text><text x="1597" y="568.8">25</text><text x="1597" y="455.8">30</text><text x="1597" y="342.9">35</text><text x="1597" y="229.9">40</text><text x="1597" y="116.9">45</text>
</g>
<text x="1431" y="56.5" font-size="53.5" textLength="162" lengthAdjust="spacingAndGlyphs">degree</text>
</svg>
</body></html>
